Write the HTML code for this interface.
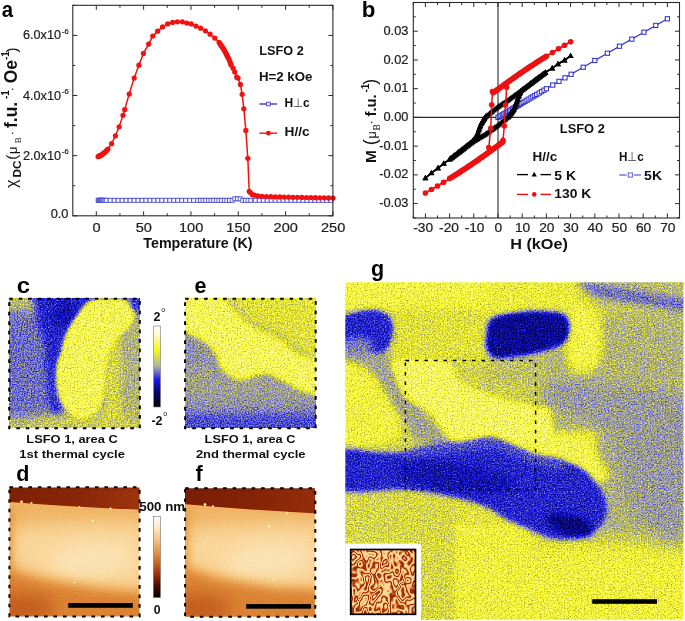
<!DOCTYPE html>
<html><head><meta charset="utf-8"><title>LSFO figure</title>
<style>
html,body{margin:0;padding:0;background:#fff;}
body{width:685px;height:621px;overflow:hidden;}
svg{display:block;}
text{font-family:'Liberation Sans', Arial, sans-serif;}
</style></head>
<body>
<svg width="685" height="621" viewBox="0 0 685 621">
<defs>
<filter id="bl1" x="-60%" y="-60%" width="220%" height="220%"><feGaussianBlur stdDeviation="1"/></filter><filter id="bl2" x="-60%" y="-60%" width="220%" height="220%"><feGaussianBlur stdDeviation="2"/></filter><filter id="bl3" x="-60%" y="-60%" width="220%" height="220%"><feGaussianBlur stdDeviation="3"/></filter><filter id="bl4" x="-60%" y="-60%" width="220%" height="220%"><feGaussianBlur stdDeviation="4"/></filter><filter id="bl5" x="-60%" y="-60%" width="220%" height="220%"><feGaussianBlur stdDeviation="5"/></filter><filter id="bl6" x="-60%" y="-60%" width="220%" height="220%"><feGaussianBlur stdDeviation="6"/></filter><filter id="bl8" x="-60%" y="-60%" width="220%" height="220%"><feGaussianBlur stdDeviation="8"/></filter><filter id="bl10" x="-60%" y="-60%" width="220%" height="220%"><feGaussianBlur stdDeviation="10"/></filter><filter id="bl14" x="-60%" y="-60%" width="220%" height="220%"><feGaussianBlur stdDeviation="14"/></filter>
<linearGradient id="gsd" x1="0" y1="0" x2="1" y2="0"><stop offset="0" stop-color="rgb(73,73,73)"/><stop offset="0.45" stop-color="rgb(79,79,79)"/><stop offset="1" stop-color="rgb(97,97,97)"/></linearGradient>
<linearGradient id="gsf" x1="0" y1="0" x2="1" y2="0"><stop offset="0" stop-color="rgb(70,70,70)"/><stop offset="0.45" stop-color="rgb(76,76,76)"/><stop offset="1" stop-color="rgb(91,91,91)"/></linearGradient>
<filter id="fc" filterUnits="userSpaceOnUse" x="-3" y="286" width="155" height="154" color-interpolation-filters="sRGB"><feGaussianBlur in="SourceGraphic" stdDeviation="0.8" result="p"/><feTurbulence type="fractalNoise" baseFrequency="0.7" numOctaves="3" seed="3" result="t"/><feColorMatrix in="t" type="matrix" values="1 0 0 0 0  1 0 0 0 0  1 0 0 0 0  0 0 0 0 1" result="n"/><feColorMatrix in="t" type="matrix" values="0 1 0 0 0  0 1 0 0 0  0 1 0 0 0  0 0 0 0 1" result="n2"/><feComposite in="p" in2="n" operator="arithmetic" k1="0" k2="1" k3="0.4" k4="-0.2" result="v"/><feComponentTransfer in="v" result="c"><feFuncR type="table" tableValues="0.000 0.000 0.000 0.000 0.000 0.002 0.009 0.017 0.025 0.036 0.056 0.077 0.098 0.165 0.233 0.300 0.381 0.465 0.549 0.601 0.654 0.698 0.737 0.776 0.825 0.877 0.928 0.957 0.969 0.982 0.995 1.000 1.000 1.000 1.000 1.000 1.000 1.000 1.000 1.000 1.000"/><feFuncG type="table" tableValues="0.000 0.000 0.000 0.000 0.000 0.002 0.009 0.017 0.025 0.036 0.056 0.077 0.098 0.165 0.233 0.300 0.381 0.465 0.549 0.601 0.654 0.701 0.744 0.787 0.834 0.882 0.930 0.957 0.969 0.982 0.995 1.000 1.000 1.000 1.000 1.000 1.000 1.000 1.000 1.000 1.000"/><feFuncB type="table" tableValues="0.000 0.049 0.098 0.147 0.196 0.251 0.329 0.408 0.486 0.567 0.659 0.751 0.843 0.843 0.843 0.843 0.804 0.755 0.706 0.632 0.559 0.487 0.417 0.347 0.284 0.223 0.162 0.170 0.224 0.277 0.331 0.395 0.465 0.535 0.605 0.675 0.745 0.809 0.873 0.936 1.000"/><feFuncA type="linear" slope="0" intercept="1"/></feComponentTransfer><feComposite in="c" in2="n2" operator="arithmetic" k1="0.8" k2="0.6" k3="0" k4="0" result="cl"/><feGaussianBlur in="cl" stdDeviation="0.6"/></filter>
<filter id="fe" filterUnits="userSpaceOnUse" x="173" y="286" width="155" height="154" color-interpolation-filters="sRGB"><feGaussianBlur in="SourceGraphic" stdDeviation="0.8" result="p"/><feTurbulence type="fractalNoise" baseFrequency="0.7" numOctaves="3" seed="7" result="t"/><feColorMatrix in="t" type="matrix" values="1 0 0 0 0  1 0 0 0 0  1 0 0 0 0  0 0 0 0 1" result="n"/><feColorMatrix in="t" type="matrix" values="0 1 0 0 0  0 1 0 0 0  0 1 0 0 0  0 0 0 0 1" result="n2"/><feComposite in="p" in2="n" operator="arithmetic" k1="0" k2="1" k3="0.4" k4="-0.2" result="v"/><feComponentTransfer in="v" result="c"><feFuncR type="table" tableValues="0.000 0.000 0.000 0.000 0.000 0.002 0.009 0.017 0.025 0.036 0.056 0.077 0.098 0.165 0.233 0.300 0.381 0.465 0.549 0.601 0.654 0.698 0.737 0.776 0.825 0.877 0.928 0.957 0.969 0.982 0.995 1.000 1.000 1.000 1.000 1.000 1.000 1.000 1.000 1.000 1.000"/><feFuncG type="table" tableValues="0.000 0.000 0.000 0.000 0.000 0.002 0.009 0.017 0.025 0.036 0.056 0.077 0.098 0.165 0.233 0.300 0.381 0.465 0.549 0.601 0.654 0.701 0.744 0.787 0.834 0.882 0.930 0.957 0.969 0.982 0.995 1.000 1.000 1.000 1.000 1.000 1.000 1.000 1.000 1.000 1.000"/><feFuncB type="table" tableValues="0.000 0.049 0.098 0.147 0.196 0.251 0.329 0.408 0.486 0.567 0.659 0.751 0.843 0.843 0.843 0.843 0.804 0.755 0.706 0.632 0.559 0.487 0.417 0.347 0.284 0.223 0.162 0.170 0.224 0.277 0.331 0.395 0.465 0.535 0.605 0.675 0.745 0.809 0.873 0.936 1.000"/><feFuncA type="linear" slope="0" intercept="1"/></feComponentTransfer><feComposite in="c" in2="n2" operator="arithmetic" k1="0.8" k2="0.6" k3="0" k4="0" result="cl"/><feGaussianBlur in="cl" stdDeviation="0.6"/></filter>
<filter id="fg" filterUnits="userSpaceOnUse" x="333.3" y="270.3" width="362.2" height="361.4" color-interpolation-filters="sRGB"><feGaussianBlur in="SourceGraphic" stdDeviation="0.8" result="p"/><feTurbulence type="fractalNoise" baseFrequency="0.7" numOctaves="3" seed="11" result="t"/><feColorMatrix in="t" type="matrix" values="1 0 0 0 0  1 0 0 0 0  1 0 0 0 0  0 0 0 0 1" result="n"/><feColorMatrix in="t" type="matrix" values="0 1 0 0 0  0 1 0 0 0  0 1 0 0 0  0 0 0 0 1" result="n2"/><feComposite in="p" in2="n" operator="arithmetic" k1="0" k2="1" k3="0.4" k4="-0.2" result="v"/><feComponentTransfer in="v" result="c"><feFuncR type="table" tableValues="0.000 0.000 0.000 0.000 0.000 0.002 0.009 0.017 0.025 0.036 0.056 0.077 0.098 0.165 0.233 0.300 0.381 0.465 0.549 0.601 0.654 0.698 0.737 0.776 0.825 0.877 0.928 0.957 0.969 0.982 0.995 1.000 1.000 1.000 1.000 1.000 1.000 1.000 1.000 1.000 1.000"/><feFuncG type="table" tableValues="0.000 0.000 0.000 0.000 0.000 0.002 0.009 0.017 0.025 0.036 0.056 0.077 0.098 0.165 0.233 0.300 0.381 0.465 0.549 0.601 0.654 0.701 0.744 0.787 0.834 0.882 0.930 0.957 0.969 0.982 0.995 1.000 1.000 1.000 1.000 1.000 1.000 1.000 1.000 1.000 1.000"/><feFuncB type="table" tableValues="0.000 0.049 0.098 0.147 0.196 0.251 0.329 0.408 0.486 0.567 0.659 0.751 0.843 0.843 0.843 0.843 0.804 0.755 0.706 0.632 0.559 0.487 0.417 0.347 0.284 0.223 0.162 0.170 0.224 0.277 0.331 0.395 0.465 0.535 0.605 0.675 0.745 0.809 0.873 0.936 1.000"/><feFuncA type="linear" slope="0" intercept="1"/></feComponentTransfer><feComposite in="c" in2="n2" operator="arithmetic" k1="0.8" k2="0.6" k3="0" k4="0" result="cl"/><feGaussianBlur in="cl" stdDeviation="0.6"/></filter>
<filter id="fd" filterUnits="userSpaceOnUse" x="-2.5" y="475.6" width="154" height="153" color-interpolation-filters="sRGB"><feGaussianBlur in="SourceGraphic" stdDeviation="0.6" result="p"/><feTurbulence type="fractalNoise" baseFrequency="0.9" numOctaves="1" seed="5" result="t"/><feColorMatrix in="t" type="matrix" values="1 0 0 0 0  1 0 0 0 0  1 0 0 0 0  0 0 0 0 1" result="n"/><feColorMatrix in="t" type="matrix" values="0 1 0 0 0  0 1 0 0 0  0 1 0 0 0  0 0 0 0 1" result="n2"/><feComposite in="p" in2="n" operator="arithmetic" k1="0" k2="1" k3="0.1" k4="-0.05" result="v"/><feComponentTransfer in="v" result="c"><feFuncR type="table" tableValues="0.000 0.041 0.082 0.123 0.163 0.205 0.250 0.296 0.341 0.386 0.431 0.471 0.510 0.549 0.588 0.627 0.667 0.706 0.745 0.769 0.793 0.817 0.842 0.866 0.882 0.897 0.912 0.926 0.941 0.949 0.958 0.966 0.974 0.981 0.984 0.987 0.990 0.993 0.995 0.998 1.000"/><feFuncG type="table" tableValues="0.000 0.007 0.013 0.020 0.026 0.034 0.047 0.060 0.072 0.085 0.098 0.118 0.137 0.157 0.176 0.216 0.255 0.294 0.333 0.371 0.409 0.446 0.484 0.522 0.559 0.596 0.632 0.669 0.706 0.734 0.763 0.792 0.820 0.848 0.870 0.893 0.915 0.938 0.958 0.979 1.000"/><feFuncB type="table" tableValues="0.000 0.000 0.000 0.000 0.000 0.000 0.003 0.005 0.007 0.010 0.012 0.019 0.025 0.032 0.039 0.054 0.069 0.083 0.098 0.121 0.143 0.166 0.189 0.211 0.245 0.282 0.319 0.355 0.392 0.437 0.482 0.527 0.572 0.618 0.667 0.716 0.765 0.816 0.877 0.939 1.000"/><feFuncA type="linear" slope="0" intercept="1"/></feComponentTransfer></filter>
<filter id="ff" filterUnits="userSpaceOnUse" x="173" y="476.3" width="154" height="152.5" color-interpolation-filters="sRGB"><feGaussianBlur in="SourceGraphic" stdDeviation="0.6" result="p"/><feTurbulence type="fractalNoise" baseFrequency="0.9" numOctaves="1" seed="9" result="t"/><feColorMatrix in="t" type="matrix" values="1 0 0 0 0  1 0 0 0 0  1 0 0 0 0  0 0 0 0 1" result="n"/><feColorMatrix in="t" type="matrix" values="0 1 0 0 0  0 1 0 0 0  0 1 0 0 0  0 0 0 0 1" result="n2"/><feComposite in="p" in2="n" operator="arithmetic" k1="0" k2="1" k3="0.1" k4="-0.05" result="v"/><feComponentTransfer in="v" result="c"><feFuncR type="table" tableValues="0.000 0.041 0.082 0.123 0.163 0.205 0.250 0.296 0.341 0.386 0.431 0.471 0.510 0.549 0.588 0.627 0.667 0.706 0.745 0.769 0.793 0.817 0.842 0.866 0.882 0.897 0.912 0.926 0.941 0.949 0.958 0.966 0.974 0.981 0.984 0.987 0.990 0.993 0.995 0.998 1.000"/><feFuncG type="table" tableValues="0.000 0.007 0.013 0.020 0.026 0.034 0.047 0.060 0.072 0.085 0.098 0.118 0.137 0.157 0.176 0.216 0.255 0.294 0.333 0.371 0.409 0.446 0.484 0.522 0.559 0.596 0.632 0.669 0.706 0.734 0.763 0.792 0.820 0.848 0.870 0.893 0.915 0.938 0.958 0.979 1.000"/><feFuncB type="table" tableValues="0.000 0.000 0.000 0.000 0.000 0.000 0.003 0.005 0.007 0.010 0.012 0.019 0.025 0.032 0.039 0.054 0.069 0.083 0.098 0.121 0.143 0.166 0.189 0.211 0.245 0.282 0.319 0.355 0.392 0.437 0.482 0.527 0.572 0.618 0.667 0.716 0.765 0.816 0.877 0.939 1.000"/><feFuncA type="linear" slope="0" intercept="1"/></feComponentTransfer></filter>
<filter id="maze" filterUnits="userSpaceOnUse" x="351" y="549.8" width="64" height="64.2" color-interpolation-filters="sRGB">
<feTurbulence type="fractalNoise" baseFrequency="0.1 0.075" numOctaves="2" seed="4" result="t"/>
<feColorMatrix in="t" type="matrix" values="1 0 0 0 0  1 0 0 0 0  1 0 0 0 0  0 0 0 0 1" result="n"/>
<feComponentTransfer in="n"><feFuncR type="table" tableValues="0.99 0.99 0.93 0.62 0.62 0.93 0.99 0.99 0.93 0.62 0.62 0.93 0.99 0.99 0.93 0.62 0.62 0.93 0.99 0.99 0.93 0.62 0.62 0.93 0.99 0.99 0.93 0.62 0.62 0.93 0.99 0.99 0.93 0.62 0.62 0.93"/><feFuncG type="table" tableValues="0.87 0.87 0.60 0.17 0.17 0.60 0.87 0.87 0.60 0.17 0.17 0.60 0.87 0.87 0.60 0.17 0.17 0.60 0.87 0.87 0.60 0.17 0.17 0.60 0.87 0.87 0.60 0.17 0.17 0.60 0.87 0.87 0.60 0.17 0.17 0.60"/><feFuncB type="table" tableValues="0.62 0.62 0.30 0.04 0.04 0.30 0.62 0.62 0.30 0.04 0.04 0.30 0.62 0.62 0.30 0.04 0.04 0.30 0.62 0.62 0.30 0.04 0.04 0.30 0.62 0.62 0.30 0.04 0.04 0.30 0.62 0.62 0.30 0.04 0.04 0.30"/><feFuncA type="linear" slope="0" intercept="1"/></feComponentTransfer>
<feGaussianBlur stdDeviation="0.35"/>
</filter>
<linearGradient id="cbm" x1="0" y1="0" x2="0" y2="1">
<stop offset="0" stop-color="#ffffff"/><stop offset="0.12" stop-color="#fdfdc0"/><stop offset="0.3" stop-color="#f6f620"/><stop offset="0.5" stop-color="#b0b0a0"/>
<stop offset="0.66" stop-color="#1a1ae8"/><stop offset="0.82" stop-color="#05056a"/><stop offset="1" stop-color="#000000"/></linearGradient>
<linearGradient id="cba" x1="0" y1="0" x2="0" y2="1">
<stop offset="0" stop-color="#ffffff"/><stop offset="0.15" stop-color="#fbe6c0"/><stop offset="0.35" stop-color="#eeb070"/><stop offset="0.52" stop-color="#d27a30"/>
<stop offset="0.68" stop-color="#a83810"/><stop offset="0.85" stop-color="#4a0c00"/><stop offset="1" stop-color="#000000"/></linearGradient>
</defs>
<rect width="685" height="621" fill="#fff"/>
<clipPath id="clip_fc"><rect x="9" y="298" width="131" height="130"/></clipPath><g clip-path="url(#clip_fc)"><g filter="url(#fc)"><rect x="-8" y="281" width="165" height="164" fill="rgb(120,120,120)"/><g transform="translate(9,298)"><rect x="-20" y="-20" width="60" height="42" fill="rgb(143,143,143)" filter="url(#bl6)"/><rect x="-20" y="112" width="180" height="40" fill="rgb(149,149,149)" filter="url(#bl5)"/><path d="M-10.0,20.0 C-1.7,4.3 31.0,13.3 40.0,20.0 C49.0,26.7 43.3,46.7 44.0,60.0 C44.7,73.3 43.3,91.0 44.0,100.0 C44.7,109.0 57.0,111.7 48.0,114.0 C39.0,116.3 -0.3,129.7 -10.0,114.0 C-19.7,98.3 -18.3,35.7 -10.0,20.0 Z" fill="rgb(106,106,106)" filter="url(#bl6)"/><path d="M28.0,-8.0 C37.3,-12.7 77.3,-12.0 84.0,-8.0 C90.7,-4.0 72.3,8.3 68.0,16.0 C63.7,23.7 60.8,31.0 58.0,38.0 C55.2,45.0 52.8,51.3 51.0,58.0 C49.2,64.7 47.5,71.3 47.0,78.0 C46.5,84.7 46.8,92.0 48.0,98.0 C49.2,104.0 54.8,111.3 54.0,114.0 C53.2,116.7 45.5,117.2 43.0,114.0 C40.5,110.8 40.0,102.3 39.0,95.0 C38.0,87.7 37.7,78.3 37.0,70.0 C36.3,61.7 36.5,53.3 35.0,45.0 C33.5,36.7 29.2,28.8 28.0,20.0 C26.8,11.2 18.7,-3.3 28.0,-8.0 Z" fill="rgb(79,79,79)" filter="url(#bl3)"/><ellipse cx="56" cy="16" rx="15" ry="11" fill="rgb(66,66,66)" transform="rotate(-30 56 16)" filter="url(#bl4)"/><rect x="-20" y="60" width="10" height="50" fill="rgb(128,128,128)" filter="url(#bl4)"/><rect x="121" y="-20" width="30" height="34" fill="rgb(87,87,87)" filter="url(#bl3)"/><rect x="94" y="25" width="22" height="95" fill="rgb(158,158,158)" filter="url(#bl5)"/><rect x="113" y="20" width="40" height="100" fill="rgb(135,135,135)" filter="url(#bl6)"/><path d="M81.7,3.8 C86.2,1.6 91.8,2.2 97.4,2.0 C103.0,1.8 111.4,1.2 115.5,2.6 C119.6,4.0 120.5,7.7 122.2,10.5 C123.9,13.3 126.3,16.1 125.6,19.5 C124.8,22.9 120.9,27.1 117.7,30.8 C114.5,34.5 109.5,37.9 106.5,42.0 C103.5,46.1 101.4,50.7 99.7,55.6 C98.0,60.5 97.0,66.1 96.3,71.4 C95.5,76.7 95.8,81.9 95.2,87.2 C94.6,92.5 94.4,98.5 92.9,103.0 C91.4,107.5 90.0,111.4 86.2,114.2 C82.5,117.0 74.9,120.1 70.4,119.9 C65.9,119.7 62.1,115.9 59.1,113.1 C56.1,110.3 54.1,106.6 52.4,103.0 C50.7,99.4 49.8,95.8 49.0,91.7 C48.2,87.6 47.8,82.7 47.8,78.2 C47.8,73.7 48.2,68.4 49.0,64.6 C49.8,60.8 51.3,59.4 52.4,55.6 C53.5,51.8 54.2,46.5 55.7,42.0 C57.2,37.5 58.9,33.1 61.4,28.6 C63.9,24.1 67.0,19.1 70.4,15.0 C73.8,10.9 77.2,6.0 81.7,3.8 Z" fill="rgb(191,191,191)" filter="url(#bl1)"/></g></g></g>
<clipPath id="clip_fe"><rect x="185" y="298" width="131" height="130"/></clipPath><g clip-path="url(#clip_fe)"><g filter="url(#fe)"><rect x="168" y="281" width="165" height="164" fill="rgb(120,120,120)"/><g transform="translate(185,298)"><rect x="-20" y="70" width="180" height="100" fill="rgb(126,126,126)" filter="url(#bl6)"/><rect x="-20" y="100" width="180" height="50" fill="rgb(119,119,119)" filter="url(#bl6)"/><rect x="-20" y="115" width="180" height="40" fill="rgb(94,94,94)" filter="url(#bl4)"/><path d="M-10.0,-10.0 C7.8,-11.3 115.0,-22.7 140.0,-10.0 C165.0,2.7 144.2,54.7 140.0,66.0 C135.8,77.3 123.0,62.3 115.0,58.0 C107.0,53.7 100.8,45.3 92.0,40.0 C83.2,34.7 71.8,33.0 62.0,26.0 C52.2,19.0 45.0,4.0 33.0,-2.0 C21.0,-8.0 -27.8,-8.7 -10.0,-10.0 Z" fill="rgb(163,163,163)" filter="url(#bl8)"/><path d="M-10.0,-10.0 C-2.8,-14.3 21.0,-8.0 33.0,-2.0 C45.0,4.0 52.2,18.8 62.0,25.8 C71.8,32.9 82.7,35.0 91.5,40.3 C100.3,45.6 106.6,53.4 114.7,57.7 C122.8,62.1 135.8,60.0 140.0,66.4 C144.2,72.8 143.7,91.7 140.0,96.0 C136.3,100.3 123.3,94.0 117.6,92.5 C111.9,91.0 109.9,88.6 106.0,86.7 C102.1,84.8 98.3,82.9 94.4,81.0 C90.5,79.1 86.7,75.8 82.8,75.1 C78.9,74.4 75.1,75.6 71.2,76.6 C67.3,77.6 63.5,80.5 59.6,81.0 C55.7,81.5 51.9,81.5 48.0,79.5 C44.1,77.5 39.3,73.4 36.4,69.3 C33.5,65.2 33.5,59.1 30.6,54.8 C27.7,50.4 25.8,48.3 19.0,43.2 C12.2,38.1 -5.2,32.9 -10.0,24.0 C-14.8,15.1 -17.2,-5.7 -10.0,-10.0 Z" fill="rgb(194,194,194)" filter="url(#bl2)"/></g></g></g>
<clipPath id="clip_fg"><rect x="345.3" y="282.3" width="338.2" height="337.4"/></clipPath><g clip-path="url(#clip_fg)"><g filter="url(#fg)"><rect x="328.3" y="265.3" width="372.2" height="371.4" fill="rgb(153,153,153)"/><g transform="translate(345.3,282.3)"><rect x="-20" y="-20" width="200" height="50" fill="rgb(184,184,184)" filter="url(#bl6)"/><rect x="-20" y="209" width="400" height="150" fill="rgb(163,163,163)" filter="url(#bl8)"/><rect x="-20" y="209" width="130" height="150" fill="rgb(156,156,156)" filter="url(#bl3)"/><rect x="110" y="242.5" width="260" height="110" fill="rgb(178,178,178)" filter="url(#bl2)"/><rect x="190" y="30" width="170" height="230" fill="rgb(135,135,135)" filter="url(#bl10)"/><rect x="138" y="74" width="62" height="28" fill="rgb(143,143,143)" filter="url(#bl5)"/><rect x="140" y="-20" width="95" height="48" fill="rgb(173,173,173)" filter="url(#bl5)"/><path d="M215.0,99.0 C237.5,97.5 327.5,106.5 350.0,118.0 C372.5,129.5 372.5,166.5 350.0,168.0 C327.5,169.5 237.5,138.5 215.0,127.0 C192.5,115.5 192.5,100.5 215.0,99.0 Z" fill="rgb(124,124,124)" filter="url(#bl6)"/><rect x="235" y="-20" width="120" height="32" fill="rgb(140,140,140)" filter="url(#bl5)"/><path d="M229.0,-2.0 L350.0,17.0 L350.0,32.0 L252.0,16.0Z" fill="rgb(107,107,107)" filter="url(#bl3)"/><path d="M223.0,27.0 C227.2,17.3 244.5,21.5 250.0,27.0 C255.5,32.5 256.0,50.3 256.0,60.0 C256.0,69.7 255.2,80.8 250.0,85.0 C244.8,89.2 229.5,94.7 225.0,85.0 C220.5,75.3 218.8,36.7 223.0,27.0 Z" fill="rgb(186,186,186)" filter="url(#bl5)"/><rect x="200" y="150" width="50" height="30" fill="rgb(184,184,184)" filter="url(#bl5)"/><rect x="48" y="28" width="100" height="52" fill="rgb(163,163,163)" filter="url(#bl8)"/><path d="M-10.0,55.0 C-5.0,52.0 11.7,59.5 20.0,62.0 C28.3,64.5 34.2,65.3 40.0,70.0 C45.8,74.7 50.7,83.0 55.0,90.0 C59.3,97.0 61.8,105.0 66.0,112.0 C70.2,119.0 75.2,126.0 80.0,132.0 C84.8,138.0 90.0,143.7 95.0,148.0 C100.0,152.3 110.0,155.0 110.0,158.0 C110.0,161.0 100.8,165.7 95.0,166.0 C89.2,166.3 81.2,164.3 75.0,160.0 C68.8,155.7 63.0,147.0 58.0,140.0 C53.0,133.0 49.7,125.5 45.0,118.0 C40.3,110.5 35.0,101.0 30.0,95.0 C25.0,89.0 21.7,84.5 15.0,82.0 C8.3,79.5 -5.8,84.5 -10.0,80.0 C-14.2,75.5 -15.0,58.0 -10.0,55.0 Z" fill="rgb(128,128,128)" filter="url(#bl3)"/><path d="M-10.0,84.0 C-5.8,72.0 8.3,83.5 15.0,86.0 C21.7,88.5 25.3,93.3 30.0,99.0 C34.7,104.7 39.0,113.2 43.0,120.0 C47.0,126.8 53.2,133.7 54.0,140.0 C54.8,146.3 58.7,155.0 48.0,158.0 C37.3,161.0 -0.3,170.3 -10.0,158.0 C-19.7,145.7 -14.2,96.0 -10.0,84.0 Z" fill="rgb(181,181,181)" filter="url(#bl3)"/><path d="M-6.0,36.2 C-3.0,30.6 6.2,30.4 12.1,28.9 C18.0,27.3 24.4,26.4 29.5,26.9 C34.6,27.4 39.4,29.1 42.5,31.8 C45.6,34.5 47.6,39.3 48.3,43.4 C49.0,47.5 48.1,52.4 46.9,56.5 C45.7,60.6 44.0,65.7 41.1,68.1 C38.2,70.5 34.3,71.5 29.5,71.0 C24.7,70.5 18.0,66.7 12.1,65.2 C6.2,63.8 -3.0,67.1 -6.0,62.3 C-9.0,57.5 -9.0,41.8 -6.0,36.2 Z" fill="rgb(79,79,79)" filter="url(#bl2)"/><ellipse cx="12" cy="64" rx="16" ry="9" fill="rgb(112,112,112)" transform="rotate(0 12 64)" filter="url(#bl3)"/><path d="M140.7,55.7 C141.2,50.7 141.5,41.7 144.7,37.7 C147.9,33.7 153.0,33.2 159.7,31.7 C166.4,30.2 176.4,29.0 184.7,28.7 C193.0,28.4 203.7,28.9 209.7,29.7 C215.7,30.5 218.2,31.5 220.7,33.7 C223.2,35.9 224.4,39.0 224.7,42.7 C225.0,46.4 224.4,52.4 222.7,55.7 C221.0,59.0 219.4,60.4 214.7,62.7 C210.0,65.0 202.2,67.7 194.7,69.7 C187.2,71.7 177.2,73.7 169.7,74.7 C162.2,75.7 154.4,76.9 149.7,75.7 C145.0,74.5 143.2,71.0 141.7,67.7 C140.2,64.4 140.2,60.7 140.7,55.7 Z" fill="rgb(57,57,57)" filter="url(#bl2)"/><path d="M50.0,78.0 C58.0,75.0 89.2,76.3 100.0,80.0 C110.8,83.7 106.7,94.2 115.0,100.0 C123.3,105.8 137.5,110.8 150.0,115.0 C162.5,119.2 180.8,122.5 190.0,125.0 C199.2,127.5 202.5,121.5 205.0,130.0 C207.5,138.5 207.4,168.7 205.0,176.0 C202.6,183.3 195.4,175.2 190.5,173.7 C185.6,172.1 180.3,169.1 175.3,166.7 C170.3,164.3 165.5,161.5 160.7,159.5 C155.9,157.5 151.1,155.1 146.3,154.7 C141.5,154.3 136.5,156.3 131.7,157.1 C126.9,157.9 121.7,159.6 117.3,159.5 C112.9,159.4 108.9,159.2 105.3,156.7 C101.7,154.2 98.5,148.7 95.7,144.7 C92.9,140.7 92.0,136.3 88.3,132.7 C84.6,129.1 78.5,126.5 73.7,123.3 C68.9,120.1 63.3,117.9 59.7,113.7 C56.1,109.5 53.6,104.0 52.0,98.0 C50.4,92.0 42.0,81.0 50.0,78.0 Z" fill="rgb(194,194,194)" filter="url(#bl2)"/><path d="M190.0,158.0 C197.5,156.0 223.0,157.7 235.0,163.0 C247.0,168.3 259.5,183.8 262.0,190.0 C264.5,196.2 257.8,201.7 250.0,200.0 C242.2,198.3 225.0,184.2 215.0,180.0 C205.0,175.8 194.2,178.7 190.0,175.0 C185.8,171.3 182.5,160.0 190.0,158.0 Z" fill="rgb(189,189,189)" filter="url(#bl3)"/><path d="M-6.0,168.7 C0.8,162.4 23.6,169.5 34.7,169.7 C45.8,169.9 52.4,170.7 60.7,169.7 C69.0,168.7 75.7,165.2 84.7,163.7 C93.7,162.2 104.7,162.0 114.7,160.7 C124.7,159.4 137.0,155.7 144.7,155.7 C152.4,155.7 155.5,158.9 160.7,160.7 C165.9,162.5 170.7,164.7 175.7,166.7 C180.7,168.7 183.7,170.9 190.7,172.7 C197.7,174.5 209.7,175.4 217.7,177.7 C225.7,180.0 233.4,183.2 238.7,186.7 C244.0,190.2 246.4,194.4 249.7,198.7 C253.0,203.0 256.7,208.4 258.7,212.7 C260.7,217.0 261.7,220.2 261.7,224.7 C261.7,229.2 261.2,235.5 258.7,239.7 C256.2,243.9 251.0,247.0 246.7,249.7 C242.4,252.4 237.5,254.4 232.7,255.7 C227.9,257.0 222.5,257.7 217.7,257.7 C212.9,257.7 208.5,257.0 203.7,255.7 C198.9,254.4 193.5,251.7 188.7,249.7 C183.9,247.7 179.5,245.9 174.7,243.7 C169.9,241.5 165.5,239.9 159.7,236.7 C153.9,233.5 147.9,228.2 139.7,224.7 C131.5,221.2 120.4,218.2 110.7,215.7 C101.0,213.2 91.0,211.0 81.7,209.7 C72.4,208.4 69.3,208.1 54.7,207.7 C40.1,207.3 4.1,213.7 -6.0,207.2 C-16.1,200.7 -12.8,174.9 -6.0,168.7 Z" fill="rgb(79,79,79)" filter="url(#bl2)"/><path d="M60.0,169.0 C64.1,166.6 75.6,165.1 84.7,163.7 C93.8,162.3 104.7,162.0 114.7,160.7 C124.7,159.4 137.0,155.7 144.7,155.7 C152.4,155.7 155.5,158.9 160.7,160.7 C165.9,162.5 170.7,164.7 175.7,166.7 C180.7,168.7 183.8,170.8 190.7,172.7 C197.6,174.6 212.6,175.6 217.0,178.0 C221.4,180.4 221.5,186.3 217.0,187.0 C212.5,187.7 197.0,183.8 190.0,182.0 C183.0,180.2 180.0,178.0 175.0,176.0 C170.0,174.0 165.0,171.7 160.0,170.0 C155.0,168.3 152.5,166.0 145.0,166.0 C137.5,166.0 125.0,168.8 115.0,170.0 C105.0,171.2 94.2,171.7 85.0,173.0 C75.8,174.3 64.2,178.7 60.0,178.0 C55.8,177.3 55.9,171.4 60.0,169.0 Z" fill="rgb(98,98,98)" filter="url(#bl3)"/><ellipse cx="225" cy="243" rx="24" ry="10" fill="rgb(51,51,51)" transform="rotate(15 225 243)" filter="url(#bl3)"/><ellipse cx="110" cy="195" rx="60" ry="14" fill="rgb(66,66,66)" transform="rotate(8 110 195)" filter="url(#bl4)"/><path d="M272.0,150.0 C282.5,138.3 332.8,127.5 345.0,145.0 C357.2,162.5 351.7,237.5 345.0,255.0 C338.3,272.5 315.5,256.7 305.0,250.0 C294.5,243.3 287.5,231.7 282.0,215.0 C276.5,198.3 261.5,161.7 272.0,150.0 Z" fill="rgb(122,122,122)" filter="url(#bl10)"/></g></g></g>
<clipPath id="clip_fd"><rect x="9.5" y="487.6" width="130" height="129"/></clipPath><g clip-path="url(#clip_fd)"><g filter="url(#fd)"><rect x="-7.5" y="470.6" width="164" height="163" fill="rgb(178,178,178)"/><g transform="translate(9.5,487.6)"><rect x="-20" y="-20" width="170" height="200" fill="rgb(184,184,184)"/><rect x="-20" y="13.4" width="170" height="26" fill="rgb(176,176,176)" filter="url(#bl8)"/><path d="M5.0,42.0 C25.8,34.7 107.5,33.0 130.0,36.0 C152.5,39.0 138.3,49.3 140.0,60.0 C141.7,70.7 153.3,94.7 140.0,100.0 C126.7,105.3 82.5,95.3 60.0,92.0 C37.5,88.7 14.2,88.3 5.0,80.0 C-4.2,71.7 -15.8,49.3 5.0,42.0 Z" fill="rgb(209,209,209)" filter="url(#bl10)"/><ellipse cx="82" cy="72" rx="42" ry="16" fill="rgb(223,223,223)" transform="rotate(-5 82 72)" filter="url(#bl8)"/><rect x="-30" y="20" width="33" height="120" fill="rgb(158,158,158)" filter="url(#bl4)"/><path d="M-10.0,86.0 C-1.7,76.7 23.3,91.3 40.0,94.0 C56.7,96.7 73.3,99.3 90.0,102.0 C106.7,104.7 131.7,102.0 140.0,110.0 C148.3,118.0 165.0,143.3 140.0,150.0 C115.0,156.7 15.0,160.7 -10.0,150.0 C-35.0,139.3 -18.3,95.3 -10.0,86.0 Z" fill="rgb(145,145,145)" filter="url(#bl6)"/><ellipse cx="8" cy="120" rx="38" ry="14" fill="rgb(120,120,120)" transform="rotate(0 8 120)" filter="url(#bl8)"/><path d="M-10,-10 L140,-10 L140,22.4 Q60,19.4 -10,13.4 Z" fill="url(#gsd)"/><rect x="-10" y="-10" width="160" height="8" fill="rgb(68,68,68)" filter="url(#bl3)"/><circle cx="12" cy="14.2" r="1.3" fill="rgb(237,237,237)"/><circle cx="22" cy="15.4" r="1.0" fill="rgb(237,237,237)"/><circle cx="70" cy="19.5" r="0.9" fill="rgb(237,237,237)"/><circle cx="101" cy="20.8" r="1.0" fill="rgb(237,237,237)"/><circle cx="83" cy="33" r="1.1" fill="rgb(237,237,237)"/><circle cx="45" cy="65" r="0.9" fill="rgb(237,237,237)"/><circle cx="65" cy="95" r="0.8" fill="rgb(237,237,237)"/></g></g></g>
<clipPath id="clip_ff"><rect x="185" y="488.3" width="130" height="128.5"/></clipPath><g clip-path="url(#clip_ff)"><g filter="url(#ff)"><rect x="168" y="471.3" width="164" height="162.5" fill="rgb(178,178,178)"/><g transform="translate(185,488.3)"><rect x="-20" y="-20" width="170" height="200" fill="rgb(184,184,184)"/><rect x="-20" y="15" width="170" height="26" fill="rgb(176,176,176)" filter="url(#bl8)"/><path d="M5.0,42.0 C25.8,34.7 107.5,33.0 130.0,36.0 C152.5,39.0 138.3,49.3 140.0,60.0 C141.7,70.7 153.3,94.7 140.0,100.0 C126.7,105.3 82.5,95.3 60.0,92.0 C37.5,88.7 14.2,88.3 5.0,80.0 C-4.2,71.7 -15.8,49.3 5.0,42.0 Z" fill="rgb(209,209,209)" filter="url(#bl10)"/><ellipse cx="82" cy="72" rx="42" ry="16" fill="rgb(223,223,223)" transform="rotate(-5 82 72)" filter="url(#bl8)"/><rect x="-30" y="20" width="33" height="120" fill="rgb(158,158,158)" filter="url(#bl4)"/><path d="M-10.0,84.0 C-1.7,74.3 23.3,89.3 40.0,92.0 C56.7,94.7 73.3,97.7 90.0,100.0 C106.7,102.3 131.7,97.7 140.0,106.0 C148.3,114.3 165.0,142.7 140.0,150.0 C115.0,157.3 15.0,161.0 -10.0,150.0 C-35.0,139.0 -18.3,93.7 -10.0,84.0 Z" fill="rgb(145,145,145)" filter="url(#bl6)"/><ellipse cx="8" cy="120" rx="38" ry="14" fill="rgb(120,120,120)" transform="rotate(0 8 120)" filter="url(#bl8)"/><path d="M-10,-10 L140,-10 L140,25.5 Q60,21.75 -10,15 Z" fill="url(#gsf)"/><rect x="-10" y="-10" width="160" height="8" fill="rgb(65,65,65)" filter="url(#bl3)"/><circle cx="20" cy="16.3" r="1.3" fill="rgb(237,237,237)"/><circle cx="28" cy="18" r="1.0" fill="rgb(237,237,237)"/><circle cx="102" cy="25" r="1.0" fill="rgb(237,237,237)"/><circle cx="84" cy="38" r="1.2" fill="rgb(237,237,237)"/><circle cx="50" cy="70" r="0.9" fill="rgb(237,237,237)"/><circle cx="88" cy="92" r="0.8" fill="rgb(237,237,237)"/></g></g></g>
<polyline points="98.19,200.31 98.86,200.31 99.52,200.31 100.18,200.31 100.84,200.31 101.51,200.31 102.26,200.31 103.11,200.31 104.06,200.31 105.10,200.31 106.24,200.31 110.21,200.31 114.19,200.31 118.16,200.31 122.14,200.31 126.11,200.31 130.09,200.31 134.06,200.31 138.04,200.31 142.01,200.31 145.99,200.31 149.96,200.31 153.94,200.31 157.91,200.31 161.89,200.31 165.86,200.31 169.84,200.31 173.81,200.31 177.79,200.31 181.76,200.31 185.73,200.31 189.71,200.31 193.68,200.31 197.66,200.31 200.40,200.31 203.05,200.31 205.70,200.31 208.35,200.31 211.00,200.31 213.65,200.31 216.30,200.31 218.95,200.31 221.60,200.31 224.25,200.31 226.90,200.31 229.55,200.31 232.20,200.31 234.85,198.81 237.50,198.81 240.15,198.81 242.80,200.31 245.45,200.31 248.10,200.31 250.75,200.31 255.30,200.31 259.27,200.31 263.24,200.31 267.22,200.31 271.19,200.31 275.17,200.31 279.14,200.31 283.12,200.31 287.09,200.31 291.07,200.31 295.04,200.31 299.02,200.31 302.99,200.31 306.97,200.31 310.94,200.31 314.92,200.31 318.89,200.31 322.87,200.31 326.84,200.31 330.82,200.31" fill="none" stroke="#3a3acb" stroke-width="1"/>
<rect x="96.19" y="198.31" width="4" height="4" fill="#fff" stroke="#4b4bd6" stroke-width="0.9"/>
<rect x="96.86" y="198.31" width="4" height="4" fill="#fff" stroke="#4b4bd6" stroke-width="0.9"/>
<rect x="97.52" y="198.31" width="4" height="4" fill="#fff" stroke="#4b4bd6" stroke-width="0.9"/>
<rect x="98.18" y="198.31" width="4" height="4" fill="#fff" stroke="#4b4bd6" stroke-width="0.9"/>
<rect x="98.84" y="198.31" width="4" height="4" fill="#fff" stroke="#4b4bd6" stroke-width="0.9"/>
<rect x="99.51" y="198.31" width="4" height="4" fill="#fff" stroke="#4b4bd6" stroke-width="0.9"/>
<rect x="100.26" y="198.31" width="4" height="4" fill="#fff" stroke="#4b4bd6" stroke-width="0.9"/>
<rect x="101.11" y="198.31" width="4" height="4" fill="#fff" stroke="#4b4bd6" stroke-width="0.9"/>
<rect x="102.06" y="198.31" width="4" height="4" fill="#fff" stroke="#4b4bd6" stroke-width="0.9"/>
<rect x="103.10" y="198.31" width="4" height="4" fill="#fff" stroke="#4b4bd6" stroke-width="0.9"/>
<rect x="104.24" y="198.31" width="4" height="4" fill="#fff" stroke="#4b4bd6" stroke-width="0.9"/>
<rect x="108.21" y="198.31" width="4" height="4" fill="#fff" stroke="#4b4bd6" stroke-width="0.9"/>
<rect x="112.19" y="198.31" width="4" height="4" fill="#fff" stroke="#4b4bd6" stroke-width="0.9"/>
<rect x="116.16" y="198.31" width="4" height="4" fill="#fff" stroke="#4b4bd6" stroke-width="0.9"/>
<rect x="120.14" y="198.31" width="4" height="4" fill="#fff" stroke="#4b4bd6" stroke-width="0.9"/>
<rect x="124.11" y="198.31" width="4" height="4" fill="#fff" stroke="#4b4bd6" stroke-width="0.9"/>
<rect x="128.09" y="198.31" width="4" height="4" fill="#fff" stroke="#4b4bd6" stroke-width="0.9"/>
<rect x="132.06" y="198.31" width="4" height="4" fill="#fff" stroke="#4b4bd6" stroke-width="0.9"/>
<rect x="136.04" y="198.31" width="4" height="4" fill="#fff" stroke="#4b4bd6" stroke-width="0.9"/>
<rect x="140.01" y="198.31" width="4" height="4" fill="#fff" stroke="#4b4bd6" stroke-width="0.9"/>
<rect x="143.99" y="198.31" width="4" height="4" fill="#fff" stroke="#4b4bd6" stroke-width="0.9"/>
<rect x="147.96" y="198.31" width="4" height="4" fill="#fff" stroke="#4b4bd6" stroke-width="0.9"/>
<rect x="151.94" y="198.31" width="4" height="4" fill="#fff" stroke="#4b4bd6" stroke-width="0.9"/>
<rect x="155.91" y="198.31" width="4" height="4" fill="#fff" stroke="#4b4bd6" stroke-width="0.9"/>
<rect x="159.89" y="198.31" width="4" height="4" fill="#fff" stroke="#4b4bd6" stroke-width="0.9"/>
<rect x="163.86" y="198.31" width="4" height="4" fill="#fff" stroke="#4b4bd6" stroke-width="0.9"/>
<rect x="167.84" y="198.31" width="4" height="4" fill="#fff" stroke="#4b4bd6" stroke-width="0.9"/>
<rect x="171.81" y="198.31" width="4" height="4" fill="#fff" stroke="#4b4bd6" stroke-width="0.9"/>
<rect x="175.79" y="198.31" width="4" height="4" fill="#fff" stroke="#4b4bd6" stroke-width="0.9"/>
<rect x="179.76" y="198.31" width="4" height="4" fill="#fff" stroke="#4b4bd6" stroke-width="0.9"/>
<rect x="183.73" y="198.31" width="4" height="4" fill="#fff" stroke="#4b4bd6" stroke-width="0.9"/>
<rect x="187.71" y="198.31" width="4" height="4" fill="#fff" stroke="#4b4bd6" stroke-width="0.9"/>
<rect x="191.68" y="198.31" width="4" height="4" fill="#fff" stroke="#4b4bd6" stroke-width="0.9"/>
<rect x="195.66" y="198.31" width="4" height="4" fill="#fff" stroke="#4b4bd6" stroke-width="0.9"/>
<rect x="198.40" y="198.31" width="4" height="4" fill="#fff" stroke="#4b4bd6" stroke-width="0.9"/>
<rect x="201.05" y="198.31" width="4" height="4" fill="#fff" stroke="#4b4bd6" stroke-width="0.9"/>
<rect x="203.70" y="198.31" width="4" height="4" fill="#fff" stroke="#4b4bd6" stroke-width="0.9"/>
<rect x="206.35" y="198.31" width="4" height="4" fill="#fff" stroke="#4b4bd6" stroke-width="0.9"/>
<rect x="209.00" y="198.31" width="4" height="4" fill="#fff" stroke="#4b4bd6" stroke-width="0.9"/>
<rect x="211.65" y="198.31" width="4" height="4" fill="#fff" stroke="#4b4bd6" stroke-width="0.9"/>
<rect x="214.30" y="198.31" width="4" height="4" fill="#fff" stroke="#4b4bd6" stroke-width="0.9"/>
<rect x="216.95" y="198.31" width="4" height="4" fill="#fff" stroke="#4b4bd6" stroke-width="0.9"/>
<rect x="219.60" y="198.31" width="4" height="4" fill="#fff" stroke="#4b4bd6" stroke-width="0.9"/>
<rect x="222.25" y="198.31" width="4" height="4" fill="#fff" stroke="#4b4bd6" stroke-width="0.9"/>
<rect x="224.90" y="198.31" width="4" height="4" fill="#fff" stroke="#4b4bd6" stroke-width="0.9"/>
<rect x="227.55" y="198.31" width="4" height="4" fill="#fff" stroke="#4b4bd6" stroke-width="0.9"/>
<rect x="230.20" y="198.31" width="4" height="4" fill="#fff" stroke="#4b4bd6" stroke-width="0.9"/>
<rect x="232.85" y="196.81" width="4" height="4" fill="#fff" stroke="#4b4bd6" stroke-width="0.9"/>
<rect x="235.50" y="196.81" width="4" height="4" fill="#fff" stroke="#4b4bd6" stroke-width="0.9"/>
<rect x="238.15" y="196.81" width="4" height="4" fill="#fff" stroke="#4b4bd6" stroke-width="0.9"/>
<rect x="240.80" y="198.31" width="4" height="4" fill="#fff" stroke="#4b4bd6" stroke-width="0.9"/>
<rect x="243.45" y="198.31" width="4" height="4" fill="#fff" stroke="#4b4bd6" stroke-width="0.9"/>
<rect x="246.10" y="198.31" width="4" height="4" fill="#fff" stroke="#4b4bd6" stroke-width="0.9"/>
<rect x="248.75" y="198.31" width="4" height="4" fill="#fff" stroke="#4b4bd6" stroke-width="0.9"/>
<rect x="253.30" y="198.31" width="4" height="4" fill="#fff" stroke="#4b4bd6" stroke-width="0.9"/>
<rect x="257.27" y="198.31" width="4" height="4" fill="#fff" stroke="#4b4bd6" stroke-width="0.9"/>
<rect x="261.24" y="198.31" width="4" height="4" fill="#fff" stroke="#4b4bd6" stroke-width="0.9"/>
<rect x="265.22" y="198.31" width="4" height="4" fill="#fff" stroke="#4b4bd6" stroke-width="0.9"/>
<rect x="269.19" y="198.31" width="4" height="4" fill="#fff" stroke="#4b4bd6" stroke-width="0.9"/>
<rect x="273.17" y="198.31" width="4" height="4" fill="#fff" stroke="#4b4bd6" stroke-width="0.9"/>
<rect x="277.14" y="198.31" width="4" height="4" fill="#fff" stroke="#4b4bd6" stroke-width="0.9"/>
<rect x="281.12" y="198.31" width="4" height="4" fill="#fff" stroke="#4b4bd6" stroke-width="0.9"/>
<rect x="285.09" y="198.31" width="4" height="4" fill="#fff" stroke="#4b4bd6" stroke-width="0.9"/>
<rect x="289.07" y="198.31" width="4" height="4" fill="#fff" stroke="#4b4bd6" stroke-width="0.9"/>
<rect x="293.04" y="198.31" width="4" height="4" fill="#fff" stroke="#4b4bd6" stroke-width="0.9"/>
<rect x="297.02" y="198.31" width="4" height="4" fill="#fff" stroke="#4b4bd6" stroke-width="0.9"/>
<rect x="300.99" y="198.31" width="4" height="4" fill="#fff" stroke="#4b4bd6" stroke-width="0.9"/>
<rect x="304.97" y="198.31" width="4" height="4" fill="#fff" stroke="#4b4bd6" stroke-width="0.9"/>
<rect x="308.94" y="198.31" width="4" height="4" fill="#fff" stroke="#4b4bd6" stroke-width="0.9"/>
<rect x="312.92" y="198.31" width="4" height="4" fill="#fff" stroke="#4b4bd6" stroke-width="0.9"/>
<rect x="316.89" y="198.31" width="4" height="4" fill="#fff" stroke="#4b4bd6" stroke-width="0.9"/>
<rect x="320.87" y="198.31" width="4" height="4" fill="#fff" stroke="#4b4bd6" stroke-width="0.9"/>
<rect x="324.84" y="198.31" width="4" height="4" fill="#fff" stroke="#4b4bd6" stroke-width="0.9"/>
<rect x="328.82" y="198.31" width="4" height="4" fill="#fff" stroke="#4b4bd6" stroke-width="0.9"/>
<polyline points="98.10,156.56 100.09,155.66 102.92,153.86 105.76,151.45 107.94,149.04 111.63,143.63 115.42,135.81 119.11,126.79 122.99,115.37 124.69,109.65 129.23,94.02 134.16,78.08 138.89,65.15 143.43,53.42 148.64,44.10 152.80,35.98 157.72,31.17 162.55,26.96 167.66,23.95 172.58,22.45 177.31,21.85 182.33,21.85 186.78,23.05 191.22,23.95 195.96,26.06 200.69,28.16 205.42,30.87 210.06,34.18 214.79,38.09 219.05,42.30 224.06,49.81 228.80,58.83 231.35,65.45 233.05,68.16 234.76,72.07 236.75,77.18 238.07,78.08 240.44,84.39 242.14,94.32 243.84,108.75 245.83,130.40 247.82,158.37 249.24,191.44 252.46,194.75 257.76,195.95 266.65,196.56 285.58,197.16 304.51,197.46 332.90,198.06" fill="none" stroke="#f21010" stroke-width="1.5"/>
<circle cx="98.10" cy="156.56" r="2.6" fill="#f21010"/>
<circle cx="98.67" cy="156.30" r="2.6" fill="#f21010"/>
<circle cx="99.14" cy="156.09" r="2.6" fill="#f21010"/>
<circle cx="99.61" cy="155.87" r="2.6" fill="#f21010"/>
<circle cx="100.09" cy="155.66" r="2.6" fill="#f21010"/>
<circle cx="100.75" cy="155.24" r="2.6" fill="#f21010"/>
<circle cx="101.51" cy="154.76" r="2.6" fill="#f21010"/>
<circle cx="102.26" cy="154.28" r="2.6" fill="#f21010"/>
<circle cx="103.11" cy="153.70" r="2.6" fill="#f21010"/>
<circle cx="104.06" cy="152.89" r="2.6" fill="#f21010"/>
<circle cx="105.01" cy="152.09" r="2.6" fill="#f21010"/>
<circle cx="106.05" cy="151.14" r="2.6" fill="#f21010"/>
<circle cx="106.99" cy="150.09" r="2.6" fill="#f21010"/>
<circle cx="107.94" cy="149.04" r="2.6" fill="#f21010"/>
<circle cx="111.63" cy="143.63" r="2.6" fill="#f21010"/>
<circle cx="115.42" cy="135.81" r="2.6" fill="#f21010"/>
<circle cx="119.11" cy="126.79" r="2.6" fill="#f21010"/>
<circle cx="122.99" cy="115.37" r="2.6" fill="#f21010"/>
<circle cx="124.69" cy="109.65" r="2.6" fill="#f21010"/>
<circle cx="129.23" cy="94.02" r="2.6" fill="#f21010"/>
<circle cx="134.16" cy="78.08" r="2.6" fill="#f21010"/>
<circle cx="138.89" cy="65.15" r="2.6" fill="#f21010"/>
<circle cx="143.43" cy="53.42" r="2.6" fill="#f21010"/>
<circle cx="148.64" cy="44.10" r="2.6" fill="#f21010"/>
<circle cx="152.80" cy="35.98" r="2.6" fill="#f21010"/>
<circle cx="157.72" cy="31.17" r="2.6" fill="#f21010"/>
<circle cx="162.55" cy="26.96" r="2.6" fill="#f21010"/>
<circle cx="167.66" cy="23.95" r="2.6" fill="#f21010"/>
<circle cx="172.58" cy="22.45" r="2.6" fill="#f21010"/>
<circle cx="177.31" cy="21.85" r="2.6" fill="#f21010"/>
<circle cx="182.33" cy="21.85" r="2.6" fill="#f21010"/>
<circle cx="186.78" cy="23.05" r="2.6" fill="#f21010"/>
<circle cx="191.22" cy="23.95" r="2.6" fill="#f21010"/>
<circle cx="195.96" cy="26.06" r="2.6" fill="#f21010"/>
<circle cx="200.69" cy="28.16" r="2.6" fill="#f21010"/>
<circle cx="205.42" cy="30.87" r="2.6" fill="#f21010"/>
<circle cx="210.06" cy="34.18" r="2.6" fill="#f21010"/>
<circle cx="214.79" cy="38.09" r="2.6" fill="#f21010"/>
<circle cx="219.05" cy="42.30" r="2.6" fill="#f21010"/>
<circle cx="219.81" cy="43.43" r="2.6" fill="#f21010"/>
<circle cx="220.56" cy="44.57" r="2.6" fill="#f21010"/>
<circle cx="221.32" cy="45.70" r="2.6" fill="#f21010"/>
<circle cx="222.08" cy="46.83" r="2.6" fill="#f21010"/>
<circle cx="222.83" cy="47.97" r="2.6" fill="#f21010"/>
<circle cx="223.59" cy="49.10" r="2.6" fill="#f21010"/>
<circle cx="224.35" cy="50.35" r="2.6" fill="#f21010"/>
<circle cx="225.11" cy="51.80" r="2.6" fill="#f21010"/>
<circle cx="225.86" cy="53.24" r="2.6" fill="#f21010"/>
<circle cx="226.62" cy="54.68" r="2.6" fill="#f21010"/>
<circle cx="227.38" cy="56.13" r="2.6" fill="#f21010"/>
<circle cx="228.13" cy="57.57" r="2.6" fill="#f21010"/>
<circle cx="228.89" cy="59.08" r="2.6" fill="#f21010"/>
<circle cx="229.65" cy="61.04" r="2.6" fill="#f21010"/>
<circle cx="230.40" cy="63.00" r="2.6" fill="#f21010"/>
<circle cx="231.16" cy="64.96" r="2.6" fill="#f21010"/>
<circle cx="233.05" cy="68.16" r="2.6" fill="#f21010"/>
<circle cx="234.76" cy="72.07" r="2.6" fill="#f21010"/>
<circle cx="236.75" cy="77.18" r="2.6" fill="#f21010"/>
<circle cx="238.07" cy="78.08" r="2.6" fill="#f21010"/>
<circle cx="240.44" cy="84.39" r="2.6" fill="#f21010"/>
<circle cx="242.14" cy="94.32" r="2.6" fill="#f21010"/>
<circle cx="243.84" cy="108.75" r="2.6" fill="#f21010"/>
<circle cx="245.83" cy="130.40" r="2.6" fill="#f21010"/>
<circle cx="247.82" cy="158.37" r="2.6" fill="#f21010"/>
<circle cx="249.24" cy="191.44" r="2.6" fill="#f21010"/>
<circle cx="250.56" cy="192.81" r="2.6" fill="#f21010"/>
<circle cx="252.46" cy="194.75" r="2.6" fill="#f21010"/>
<circle cx="254.35" cy="195.18" r="2.6" fill="#f21010"/>
<circle cx="257.76" cy="195.95" r="2.6" fill="#f21010"/>
<circle cx="261.92" cy="196.24" r="2.6" fill="#f21010"/>
<circle cx="266.37" cy="196.54" r="2.6" fill="#f21010"/>
<circle cx="270.82" cy="196.69" r="2.6" fill="#f21010"/>
<circle cx="275.26" cy="196.83" r="2.6" fill="#f21010"/>
<circle cx="279.71" cy="196.97" r="2.6" fill="#f21010"/>
<circle cx="284.16" cy="197.11" r="2.6" fill="#f21010"/>
<circle cx="288.61" cy="197.20" r="2.6" fill="#f21010"/>
<circle cx="293.06" cy="197.28" r="2.6" fill="#f21010"/>
<circle cx="297.50" cy="197.35" r="2.6" fill="#f21010"/>
<circle cx="301.95" cy="197.42" r="2.6" fill="#f21010"/>
<circle cx="306.40" cy="197.50" r="2.6" fill="#f21010"/>
<circle cx="310.85" cy="197.59" r="2.6" fill="#f21010"/>
<circle cx="315.30" cy="197.69" r="2.6" fill="#f21010"/>
<circle cx="319.75" cy="197.78" r="2.6" fill="#f21010"/>
<circle cx="324.19" cy="197.87" r="2.6" fill="#f21010"/>
<circle cx="328.64" cy="197.97" r="2.6" fill="#f21010"/>
<circle cx="333.09" cy="198.06" r="2.6" fill="#f21010"/>
<rect x="72.8" y="5.3" width="260.10" height="210.50" fill="none" stroke="#2a2a2a" stroke-width="1.1"/>
<line x1="96.30" y1="215.8" x2="96.30" y2="211.30" stroke="#2a2a2a" stroke-width="1"/>
<line x1="96.30" y1="5.3" x2="96.30" y2="9.80" stroke="#2a2a2a" stroke-width="1"/>
<line x1="119.96" y1="215.8" x2="119.96" y2="213.30" stroke="#2a2a2a" stroke-width="1"/>
<line x1="119.96" y1="5.3" x2="119.96" y2="7.80" stroke="#2a2a2a" stroke-width="1"/>
<line x1="143.62" y1="215.8" x2="143.62" y2="211.30" stroke="#2a2a2a" stroke-width="1"/>
<line x1="143.62" y1="5.3" x2="143.62" y2="9.80" stroke="#2a2a2a" stroke-width="1"/>
<line x1="167.28" y1="215.8" x2="167.28" y2="213.30" stroke="#2a2a2a" stroke-width="1"/>
<line x1="167.28" y1="5.3" x2="167.28" y2="7.80" stroke="#2a2a2a" stroke-width="1"/>
<line x1="190.94" y1="215.8" x2="190.94" y2="211.30" stroke="#2a2a2a" stroke-width="1"/>
<line x1="190.94" y1="5.3" x2="190.94" y2="9.80" stroke="#2a2a2a" stroke-width="1"/>
<line x1="214.60" y1="215.8" x2="214.60" y2="213.30" stroke="#2a2a2a" stroke-width="1"/>
<line x1="214.60" y1="5.3" x2="214.60" y2="7.80" stroke="#2a2a2a" stroke-width="1"/>
<line x1="238.26" y1="215.8" x2="238.26" y2="211.30" stroke="#2a2a2a" stroke-width="1"/>
<line x1="238.26" y1="5.3" x2="238.26" y2="9.80" stroke="#2a2a2a" stroke-width="1"/>
<line x1="261.92" y1="215.8" x2="261.92" y2="213.30" stroke="#2a2a2a" stroke-width="1"/>
<line x1="261.92" y1="5.3" x2="261.92" y2="7.80" stroke="#2a2a2a" stroke-width="1"/>
<line x1="285.58" y1="215.8" x2="285.58" y2="211.30" stroke="#2a2a2a" stroke-width="1"/>
<line x1="285.58" y1="5.3" x2="285.58" y2="9.80" stroke="#2a2a2a" stroke-width="1"/>
<line x1="309.24" y1="215.8" x2="309.24" y2="213.30" stroke="#2a2a2a" stroke-width="1"/>
<line x1="309.24" y1="5.3" x2="309.24" y2="7.80" stroke="#2a2a2a" stroke-width="1"/>
<line x1="332.90" y1="215.8" x2="332.90" y2="211.30" stroke="#2a2a2a" stroke-width="1"/>
<line x1="332.90" y1="5.3" x2="332.90" y2="9.80" stroke="#2a2a2a" stroke-width="1"/>
<line x1="72.8" y1="215.80" x2="77.30" y2="215.80" stroke="#2a2a2a" stroke-width="1"/>
<line x1="332.9" y1="215.80" x2="328.40" y2="215.80" stroke="#2a2a2a" stroke-width="1"/>
<line x1="72.8" y1="185.73" x2="75.30" y2="185.73" stroke="#2a2a2a" stroke-width="1"/>
<line x1="332.9" y1="185.73" x2="330.40" y2="185.73" stroke="#2a2a2a" stroke-width="1"/>
<line x1="72.8" y1="155.66" x2="77.30" y2="155.66" stroke="#2a2a2a" stroke-width="1"/>
<line x1="332.9" y1="155.66" x2="328.40" y2="155.66" stroke="#2a2a2a" stroke-width="1"/>
<line x1="72.8" y1="125.59" x2="75.30" y2="125.59" stroke="#2a2a2a" stroke-width="1"/>
<line x1="332.9" y1="125.59" x2="330.40" y2="125.59" stroke="#2a2a2a" stroke-width="1"/>
<line x1="72.8" y1="95.52" x2="77.30" y2="95.52" stroke="#2a2a2a" stroke-width="1"/>
<line x1="332.9" y1="95.52" x2="328.40" y2="95.52" stroke="#2a2a2a" stroke-width="1"/>
<line x1="72.8" y1="65.45" x2="75.30" y2="65.45" stroke="#2a2a2a" stroke-width="1"/>
<line x1="332.9" y1="65.45" x2="330.40" y2="65.45" stroke="#2a2a2a" stroke-width="1"/>
<line x1="72.8" y1="35.38" x2="77.30" y2="35.38" stroke="#2a2a2a" stroke-width="1"/>
<line x1="332.9" y1="35.38" x2="328.40" y2="35.38" stroke="#2a2a2a" stroke-width="1"/>
<line x1="72.8" y1="5.31" x2="75.30" y2="5.31" stroke="#2a2a2a" stroke-width="1"/>
<line x1="332.9" y1="5.31" x2="330.40" y2="5.31" stroke="#2a2a2a" stroke-width="1"/>
<text x="96.50" y="232.40" font-size="13" font-weight="normal" text-anchor="middle" fill="#1e1e1e" stroke="#1e1e1e" stroke-width="0.22" textLength="8.10" lengthAdjust="spacingAndGlyphs">0</text>
<text x="143.82" y="232.40" font-size="13" font-weight="normal" text-anchor="middle" fill="#1e1e1e" stroke="#1e1e1e" stroke-width="0.22" textLength="16.19" lengthAdjust="spacingAndGlyphs">50</text>
<text x="191.14" y="232.40" font-size="13" font-weight="normal" text-anchor="middle" fill="#1e1e1e" stroke="#1e1e1e" stroke-width="0.22" textLength="24.29" lengthAdjust="spacingAndGlyphs">100</text>
<text x="238.46" y="232.40" font-size="13" font-weight="normal" text-anchor="middle" fill="#1e1e1e" stroke="#1e1e1e" stroke-width="0.22" textLength="24.29" lengthAdjust="spacingAndGlyphs">150</text>
<text x="285.78" y="232.40" font-size="13" font-weight="normal" text-anchor="middle" fill="#1e1e1e" stroke="#1e1e1e" stroke-width="0.22" textLength="24.29" lengthAdjust="spacingAndGlyphs">200</text>
<text x="333.10" y="232.40" font-size="13" font-weight="normal" text-anchor="middle" fill="#1e1e1e" stroke="#1e1e1e" stroke-width="0.22" textLength="24.29" lengthAdjust="spacingAndGlyphs">250</text>
<text x="68.50" y="217.60" font-size="12.8" font-weight="normal" text-anchor="end" fill="#1e1e1e" stroke="#1e1e1e" stroke-width="0.22" textLength="17.79" lengthAdjust="spacingAndGlyphs">0.0</text>
<text x="61.00" y="159.76" font-size="12.8" font-weight="normal" text-anchor="end" fill="#1e1e1e" stroke="#1e1e1e" stroke-width="0.22" textLength="38.04" lengthAdjust="spacingAndGlyphs">2.0x10</text>
<text x="61.90" y="153.96" font-size="7.6" font-weight="normal" text-anchor="start" fill="#1e1e1e" stroke="#1e1e1e" stroke-width="0.22">-6</text>
<text x="61.00" y="99.62" font-size="12.8" font-weight="normal" text-anchor="end" fill="#1e1e1e" stroke="#1e1e1e" stroke-width="0.22" textLength="38.04" lengthAdjust="spacingAndGlyphs">4.0x10</text>
<text x="61.90" y="93.82" font-size="7.6" font-weight="normal" text-anchor="start" fill="#1e1e1e" stroke="#1e1e1e" stroke-width="0.22">-6</text>
<text x="61.00" y="39.48" font-size="12.8" font-weight="normal" text-anchor="end" fill="#1e1e1e" stroke="#1e1e1e" stroke-width="0.22" textLength="38.04" lengthAdjust="spacingAndGlyphs">6.0x10</text>
<text x="61.90" y="33.68" font-size="7.6" font-weight="normal" text-anchor="start" fill="#1e1e1e" stroke="#1e1e1e" stroke-width="0.22">-6</text>
<text x="143.30" y="248.00" font-size="14.6" font-weight="bold" fill="#111" textLength="109.33" lengthAdjust="spacingAndGlyphs">Temperature (K)</text>
<text transform="translate(16.7,187.6) rotate(-90)" font-size="17.5" font-weight="bold" fill="#111"><tspan x="-0.3" y="0.6" font-weight="normal" font-size="16">&#967;</tspan><tspan x="10.0" y="4.2" font-size="11.8">DC</tspan><tspan x="27.8" y="0" font-weight="normal" font-size="15">(</tspan><tspan x="33.6" y="0" font-weight="normal" font-size="13">&#956;</tspan><tspan x="44.3" y="4.2" font-weight="normal" font-size="9" font-family="'Liberation Serif', serif">B</tspan><tspan x="53" y="-1" font-size="9">&#183;</tspan><tspan x="59.6" y="0">f.u.</tspan><tspan x="88.6" y="-7.5" font-size="10">-1</tspan><tspan x="97" y="-1" font-size="9">&#183;</tspan><tspan x="104.3" y="0">Oe</tspan><tspan x="127.6" y="-7.5" font-size="10">-1</tspan><tspan x="135.2" y="0" font-weight="normal" font-size="15">)</tspan></text>
<text x="259.27" y="54.80" font-size="12.3" font-weight="bold" fill="#111" textLength="44.48" lengthAdjust="spacingAndGlyphs">LSFO 2</text>
<text x="258.92" y="81.00" font-size="12.3" font-weight="bold" fill="#111" textLength="53.49" lengthAdjust="spacingAndGlyphs">H=2 kOe</text>
<line x1="259.4" y1="104" x2="277" y2="104" stroke="#2a2aa8" stroke-width="1.3"/>
<rect x="266.6" y="102.2" width="3.6" height="3.6" fill="#fff" stroke="#3c3cc8" stroke-width="0.9"/>
<text x="284.49" y="107.10" font-size="12.3" font-weight="bold" fill="#111" textLength="25.16" lengthAdjust="spacingAndGlyphs">H<tspan font-weight="normal" fill="#444">&#8869;</tspan>c</text>
<line x1="259.4" y1="133.2" x2="277" y2="133.2" stroke="#f21010" stroke-width="1.4"/>
<circle cx="268.4" cy="133.2" r="2.4" fill="#f21010"/>
<text x="284.49" y="136.10" font-size="12.3" font-weight="bold" fill="#111" textLength="25.16" lengthAdjust="spacingAndGlyphs">H//c</text>
<text x="1.65" y="16.70" font-size="21.5" font-weight="bold" fill="#000" textLength="11.32" lengthAdjust="spacingAndGlyphs">a</text>
<line x1="413.3" y1="117.40" x2="679.5" y2="117.40" stroke="#2a2a2a" stroke-width="1.1"/>
<line x1="498.00" y1="2.5" x2="498.00" y2="218.0" stroke="#2a2a2a" stroke-width="1.1"/>
<polyline points="498.00,117.40 499.45,116.53 500.90,115.67 502.36,114.81 503.81,113.94 505.26,113.08 506.71,112.21 508.16,111.35 509.62,110.49 511.07,109.63 512.52,108.76 513.97,107.90 515.42,107.04 516.88,106.18 518.33,105.32 519.78,104.46 521.23,103.60 523.17,102.45 525.10,101.31 527.04,100.16 528.98,99.02 530.91,97.87 532.85,96.73 534.78,95.59 536.72,94.45 539.14,93.02 541.56,91.60 543.98,90.17 546.40,88.75 552.69,85.05 558.98,81.36 565.03,77.82 571.08,74.28 583.18,67.23 594.80,60.48 607.38,53.20 619.48,46.22 631.83,39.12 643.93,32.19 655.78,25.42 667.40,18.81" fill="none" stroke="#2a2ac8" stroke-width="1.15"/>
<rect x="495.90" y="115.30" width="4.2" height="4.2" fill="#fff" stroke="#3333cc" stroke-width="1.05"/>
<rect x="497.35" y="114.43" width="4.2" height="4.2" fill="#fff" stroke="#3333cc" stroke-width="1.05"/>
<rect x="498.80" y="113.57" width="4.2" height="4.2" fill="#fff" stroke="#3333cc" stroke-width="1.05"/>
<rect x="500.26" y="112.71" width="4.2" height="4.2" fill="#fff" stroke="#3333cc" stroke-width="1.05"/>
<rect x="501.71" y="111.84" width="4.2" height="4.2" fill="#fff" stroke="#3333cc" stroke-width="1.05"/>
<rect x="503.16" y="110.98" width="4.2" height="4.2" fill="#fff" stroke="#3333cc" stroke-width="1.05"/>
<rect x="504.61" y="110.11" width="4.2" height="4.2" fill="#fff" stroke="#3333cc" stroke-width="1.05"/>
<rect x="506.06" y="109.25" width="4.2" height="4.2" fill="#fff" stroke="#3333cc" stroke-width="1.05"/>
<rect x="507.52" y="108.39" width="4.2" height="4.2" fill="#fff" stroke="#3333cc" stroke-width="1.05"/>
<rect x="508.97" y="107.53" width="4.2" height="4.2" fill="#fff" stroke="#3333cc" stroke-width="1.05"/>
<rect x="510.42" y="106.66" width="4.2" height="4.2" fill="#fff" stroke="#3333cc" stroke-width="1.05"/>
<rect x="511.87" y="105.80" width="4.2" height="4.2" fill="#fff" stroke="#3333cc" stroke-width="1.05"/>
<rect x="513.32" y="104.94" width="4.2" height="4.2" fill="#fff" stroke="#3333cc" stroke-width="1.05"/>
<rect x="514.78" y="104.08" width="4.2" height="4.2" fill="#fff" stroke="#3333cc" stroke-width="1.05"/>
<rect x="516.23" y="103.22" width="4.2" height="4.2" fill="#fff" stroke="#3333cc" stroke-width="1.05"/>
<rect x="517.68" y="102.36" width="4.2" height="4.2" fill="#fff" stroke="#3333cc" stroke-width="1.05"/>
<rect x="519.13" y="101.50" width="4.2" height="4.2" fill="#fff" stroke="#3333cc" stroke-width="1.05"/>
<rect x="521.07" y="100.35" width="4.2" height="4.2" fill="#fff" stroke="#3333cc" stroke-width="1.05"/>
<rect x="523.00" y="99.21" width="4.2" height="4.2" fill="#fff" stroke="#3333cc" stroke-width="1.05"/>
<rect x="524.94" y="98.06" width="4.2" height="4.2" fill="#fff" stroke="#3333cc" stroke-width="1.05"/>
<rect x="526.88" y="96.92" width="4.2" height="4.2" fill="#fff" stroke="#3333cc" stroke-width="1.05"/>
<rect x="528.81" y="95.77" width="4.2" height="4.2" fill="#fff" stroke="#3333cc" stroke-width="1.05"/>
<rect x="530.75" y="94.63" width="4.2" height="4.2" fill="#fff" stroke="#3333cc" stroke-width="1.05"/>
<rect x="532.68" y="93.49" width="4.2" height="4.2" fill="#fff" stroke="#3333cc" stroke-width="1.05"/>
<rect x="534.62" y="92.35" width="4.2" height="4.2" fill="#fff" stroke="#3333cc" stroke-width="1.05"/>
<rect x="537.04" y="90.92" width="4.2" height="4.2" fill="#fff" stroke="#3333cc" stroke-width="1.05"/>
<rect x="539.46" y="89.50" width="4.2" height="4.2" fill="#fff" stroke="#3333cc" stroke-width="1.05"/>
<rect x="541.88" y="88.07" width="4.2" height="4.2" fill="#fff" stroke="#3333cc" stroke-width="1.05"/>
<rect x="544.30" y="86.65" width="4.2" height="4.2" fill="#fff" stroke="#3333cc" stroke-width="1.05"/>
<rect x="550.59" y="82.95" width="4.2" height="4.2" fill="#fff" stroke="#3333cc" stroke-width="1.05"/>
<rect x="556.88" y="79.26" width="4.2" height="4.2" fill="#fff" stroke="#3333cc" stroke-width="1.05"/>
<rect x="562.93" y="75.72" width="4.2" height="4.2" fill="#fff" stroke="#3333cc" stroke-width="1.05"/>
<rect x="568.98" y="72.18" width="4.2" height="4.2" fill="#fff" stroke="#3333cc" stroke-width="1.05"/>
<rect x="581.08" y="65.13" width="4.2" height="4.2" fill="#fff" stroke="#3333cc" stroke-width="1.05"/>
<rect x="592.70" y="58.38" width="4.2" height="4.2" fill="#fff" stroke="#3333cc" stroke-width="1.05"/>
<rect x="605.28" y="51.10" width="4.2" height="4.2" fill="#fff" stroke="#3333cc" stroke-width="1.05"/>
<rect x="617.38" y="44.12" width="4.2" height="4.2" fill="#fff" stroke="#3333cc" stroke-width="1.05"/>
<rect x="629.73" y="37.02" width="4.2" height="4.2" fill="#fff" stroke="#3333cc" stroke-width="1.05"/>
<rect x="641.83" y="30.09" width="4.2" height="4.2" fill="#fff" stroke="#3333cc" stroke-width="1.05"/>
<rect x="653.68" y="23.32" width="4.2" height="4.2" fill="#fff" stroke="#3333cc" stroke-width="1.05"/>
<rect x="665.30" y="16.71" width="4.2" height="4.2" fill="#fff" stroke="#3333cc" stroke-width="1.05"/>
<polyline points="570.60,55.92 564.55,60.23 558.02,63.96 552.21,68.27 546.40,71.72 534.30,80.63 520.75,90.97 508.41,99.87 497.76,107.06 485.42,116.83 481.06,123.72 478.40,130.90 476.70,136.07 473.07,140.67 461.70,149.58 449.60,159.06 443.79,163.37 437.98,167.96 431.45,172.85 425.40,178.02" fill="none" stroke="#000" stroke-width="1.6"/>
<polyline points="425.40,178.02 431.45,173.14 437.98,168.25 443.79,163.66 449.60,159.63 461.70,150.44 473.07,141.53 485.42,134.35 497.76,125.44 508.41,116.83 513.73,109.64 516.39,102.46 519.05,95.28 520.75,90.97 534.30,80.91 546.40,71.72 552.21,68.27 558.02,63.96 564.55,60.23 570.60,55.92" fill="none" stroke="#000" stroke-width="1.6"/>
<path d="M449.60,155.86 L452.60,161.26 L446.60,161.26Z" fill="#000"/>
<path d="M450.93,154.82 L453.93,160.22 L447.93,160.22Z" fill="#000"/>
<path d="M452.26,153.77 L455.26,159.17 L449.26,159.17Z" fill="#000"/>
<path d="M453.59,152.73 L456.59,158.13 L450.59,158.13Z" fill="#000"/>
<path d="M454.92,151.69 L457.92,157.09 L451.92,157.09Z" fill="#000"/>
<path d="M456.25,150.64 L459.25,156.04 L453.25,156.04Z" fill="#000"/>
<path d="M457.59,149.60 L460.59,155.00 L454.59,155.00Z" fill="#000"/>
<path d="M458.92,148.56 L461.92,153.96 L455.92,153.96Z" fill="#000"/>
<path d="M460.25,147.52 L463.25,152.92 L457.25,152.92Z" fill="#000"/>
<path d="M461.58,146.47 L464.58,151.87 L458.58,151.87Z" fill="#000"/>
<path d="M462.91,145.43 L465.91,150.83 L459.91,150.83Z" fill="#000"/>
<path d="M464.24,144.39 L467.24,149.79 L461.24,149.79Z" fill="#000"/>
<path d="M465.57,143.35 L468.57,148.75 L462.57,148.75Z" fill="#000"/>
<path d="M466.90,142.30 L469.90,147.70 L463.90,147.70Z" fill="#000"/>
<path d="M468.23,141.26 L471.23,146.66 L465.23,146.66Z" fill="#000"/>
<path d="M469.57,140.22 L472.57,145.62 L466.57,145.62Z" fill="#000"/>
<path d="M470.90,139.18 L473.90,144.58 L467.90,144.58Z" fill="#000"/>
<path d="M472.23,138.13 L475.23,143.53 L469.23,143.53Z" fill="#000"/>
<path d="M473.56,136.86 L476.56,142.26 L470.56,142.26Z" fill="#000"/>
<path d="M474.89,135.17 L477.89,140.57 L471.89,140.57Z" fill="#000"/>
<path d="M476.22,133.49 L479.22,138.89 L473.22,138.89Z" fill="#000"/>
<path d="M477.55,130.29 L480.55,135.69 L474.55,135.69Z" fill="#000"/>
<path d="M478.88,126.40 L481.88,131.80 L475.88,131.80Z" fill="#000"/>
<path d="M480.21,122.81 L483.21,128.21 L477.21,128.21Z" fill="#000"/>
<path d="M481.54,119.75 L484.54,125.15 L478.54,125.15Z" fill="#000"/>
<path d="M482.88,117.65 L485.88,123.05 L479.88,123.05Z" fill="#000"/>
<path d="M484.21,115.54 L487.21,120.94 L481.21,120.94Z" fill="#000"/>
<path d="M485.54,113.53 L488.54,118.93 L482.54,118.93Z" fill="#000"/>
<path d="M486.87,112.48 L489.87,117.88 L483.87,117.88Z" fill="#000"/>
<path d="M488.20,111.42 L491.20,116.82 L485.20,116.82Z" fill="#000"/>
<path d="M489.53,110.37 L492.53,115.77 L486.53,115.77Z" fill="#000"/>
<path d="M490.86,109.32 L493.86,114.72 L487.86,114.72Z" fill="#000"/>
<path d="M492.19,108.26 L495.19,113.66 L489.19,113.66Z" fill="#000"/>
<path d="M493.52,107.21 L496.52,112.61 L490.52,112.61Z" fill="#000"/>
<path d="M494.85,106.16 L497.85,111.56 L491.85,111.56Z" fill="#000"/>
<path d="M496.19,105.10 L499.19,110.50 L493.19,110.50Z" fill="#000"/>
<path d="M497.52,104.05 L500.52,109.45 L494.52,109.45Z" fill="#000"/>
<path d="M498.85,103.12 L501.85,108.52 L495.85,108.52Z" fill="#000"/>
<path d="M500.18,102.22 L503.18,107.62 L497.18,107.62Z" fill="#000"/>
<path d="M501.51,101.33 L504.51,106.73 L498.51,106.73Z" fill="#000"/>
<path d="M502.84,100.43 L505.84,105.83 L499.84,105.83Z" fill="#000"/>
<path d="M504.17,99.53 L507.17,104.93 L501.17,104.93Z" fill="#000"/>
<path d="M505.50,98.63 L508.50,104.03 L502.50,104.03Z" fill="#000"/>
<path d="M506.83,97.74 L509.83,103.14 L503.83,103.14Z" fill="#000"/>
<path d="M508.16,96.84 L511.16,102.24 L505.16,102.24Z" fill="#000"/>
<path d="M509.50,95.89 L512.50,101.29 L506.50,101.29Z" fill="#000"/>
<path d="M510.83,94.93 L513.83,100.33 L507.83,100.33Z" fill="#000"/>
<path d="M512.16,93.97 L515.16,99.37 L509.16,99.37Z" fill="#000"/>
<path d="M513.49,93.01 L516.49,98.41 L510.49,98.41Z" fill="#000"/>
<path d="M514.82,92.05 L517.82,97.45 L511.82,97.45Z" fill="#000"/>
<path d="M516.15,91.09 L519.15,96.49 L513.15,96.49Z" fill="#000"/>
<path d="M517.48,90.13 L520.48,95.53 L514.48,95.53Z" fill="#000"/>
<path d="M518.81,89.17 L521.81,94.57 L515.81,94.57Z" fill="#000"/>
<path d="M520.14,88.20 L523.14,93.60 L517.14,93.60Z" fill="#000"/>
<path d="M521.47,87.21 L524.47,92.61 L518.47,92.61Z" fill="#000"/>
<path d="M522.81,86.20 L525.81,91.60 L519.81,91.60Z" fill="#000"/>
<path d="M524.14,85.18 L527.14,90.58 L521.14,90.58Z" fill="#000"/>
<path d="M525.47,84.17 L528.47,89.57 L522.47,89.57Z" fill="#000"/>
<path d="M526.80,83.15 L529.80,88.55 L523.80,88.55Z" fill="#000"/>
<path d="M528.13,82.14 L531.13,87.54 L525.13,87.54Z" fill="#000"/>
<path d="M529.46,81.12 L532.46,86.52 L526.46,86.52Z" fill="#000"/>
<path d="M530.79,80.10 L533.79,85.50 L527.79,85.50Z" fill="#000"/>
<path d="M532.12,79.09 L535.12,84.49 L529.12,84.49Z" fill="#000"/>
<path d="M533.45,78.07 L536.45,83.47 L530.45,83.47Z" fill="#000"/>
<path d="M534.78,77.07 L537.78,82.47 L531.78,82.47Z" fill="#000"/>
<path d="M536.12,76.09 L539.12,81.49 L533.12,81.49Z" fill="#000"/>
<path d="M537.45,75.11 L540.45,80.51 L534.45,80.51Z" fill="#000"/>
<path d="M538.78,74.13 L541.78,79.53 L535.78,79.53Z" fill="#000"/>
<path d="M540.11,73.15 L543.11,78.55 L537.11,78.55Z" fill="#000"/>
<path d="M541.44,72.17 L544.44,77.57 L538.44,77.57Z" fill="#000"/>
<path d="M542.77,71.19 L545.77,76.59 L539.77,76.59Z" fill="#000"/>
<path d="M544.10,70.21 L547.10,75.61 L541.10,75.61Z" fill="#000"/>
<path d="M545.43,69.23 L548.43,74.63 L542.43,74.63Z" fill="#000"/>
<path d="M425.40,174.82 L428.40,180.22 L422.40,180.22Z" fill="#000"/>
<path d="M431.45,169.65 L434.45,175.05 L428.45,175.05Z" fill="#000"/>
<path d="M437.98,164.76 L440.98,170.16 L434.98,170.16Z" fill="#000"/>
<path d="M443.79,160.17 L446.79,165.57 L440.79,165.57Z" fill="#000"/>
<path d="M552.21,65.07 L555.21,70.47 L549.21,70.47Z" fill="#000"/>
<path d="M558.02,60.76 L561.02,66.16 L555.02,66.16Z" fill="#000"/>
<path d="M564.55,57.03 L567.55,62.43 L561.55,62.43Z" fill="#000"/>
<path d="M570.60,52.72 L573.60,58.12 L567.60,58.12Z" fill="#000"/>
<path d="M449.60,156.43 L452.60,161.83 L446.60,161.83Z" fill="#000"/>
<path d="M450.93,155.42 L453.93,160.82 L447.93,160.82Z" fill="#000"/>
<path d="M452.26,154.41 L455.26,159.81 L449.26,159.81Z" fill="#000"/>
<path d="M453.59,153.40 L456.59,158.80 L450.59,158.80Z" fill="#000"/>
<path d="M454.92,152.39 L457.92,157.79 L451.92,157.79Z" fill="#000"/>
<path d="M456.25,151.38 L459.25,156.78 L453.25,156.78Z" fill="#000"/>
<path d="M457.59,150.37 L460.59,155.77 L454.59,155.77Z" fill="#000"/>
<path d="M458.92,149.35 L461.92,154.75 L455.92,154.75Z" fill="#000"/>
<path d="M460.25,148.34 L463.25,153.74 L457.25,153.74Z" fill="#000"/>
<path d="M461.58,147.33 L464.58,152.73 L458.58,152.73Z" fill="#000"/>
<path d="M462.91,146.29 L465.91,151.69 L459.91,151.69Z" fill="#000"/>
<path d="M464.24,145.25 L467.24,150.65 L461.24,150.65Z" fill="#000"/>
<path d="M465.57,144.21 L468.57,149.61 L462.57,149.61Z" fill="#000"/>
<path d="M466.90,143.17 L469.90,148.57 L463.90,148.57Z" fill="#000"/>
<path d="M468.23,142.12 L471.23,147.52 L465.23,147.52Z" fill="#000"/>
<path d="M469.57,141.08 L472.57,146.48 L466.57,146.48Z" fill="#000"/>
<path d="M470.90,140.04 L473.90,145.44 L467.90,145.44Z" fill="#000"/>
<path d="M472.23,139.00 L475.23,144.40 L469.23,144.40Z" fill="#000"/>
<path d="M473.56,138.05 L476.56,143.45 L470.56,143.45Z" fill="#000"/>
<path d="M474.89,137.28 L477.89,142.68 L471.89,142.68Z" fill="#000"/>
<path d="M476.22,136.50 L479.22,141.90 L473.22,141.90Z" fill="#000"/>
<path d="M477.55,135.73 L480.55,141.13 L474.55,141.13Z" fill="#000"/>
<path d="M478.88,134.95 L481.88,140.35 L475.88,140.35Z" fill="#000"/>
<path d="M480.21,134.18 L483.21,139.58 L477.21,139.58Z" fill="#000"/>
<path d="M481.54,133.40 L484.54,138.80 L478.54,138.80Z" fill="#000"/>
<path d="M482.88,132.63 L485.88,138.03 L479.88,138.03Z" fill="#000"/>
<path d="M484.21,131.85 L487.21,137.25 L481.21,137.25Z" fill="#000"/>
<path d="M485.54,131.06 L488.54,136.46 L482.54,136.46Z" fill="#000"/>
<path d="M486.87,130.10 L489.87,135.50 L483.87,135.50Z" fill="#000"/>
<path d="M488.20,129.14 L491.20,134.54 L485.20,134.54Z" fill="#000"/>
<path d="M489.53,128.18 L492.53,133.58 L486.53,133.58Z" fill="#000"/>
<path d="M490.86,127.22 L493.86,132.62 L487.86,132.62Z" fill="#000"/>
<path d="M492.19,126.26 L495.19,131.66 L489.19,131.66Z" fill="#000"/>
<path d="M493.52,125.30 L496.52,130.70 L490.52,130.70Z" fill="#000"/>
<path d="M494.85,124.34 L497.85,129.74 L491.85,129.74Z" fill="#000"/>
<path d="M496.19,123.38 L499.19,128.78 L493.19,128.78Z" fill="#000"/>
<path d="M497.52,122.42 L500.52,127.82 L494.52,127.82Z" fill="#000"/>
<path d="M498.85,121.36 L501.85,126.76 L495.85,126.76Z" fill="#000"/>
<path d="M500.18,120.29 L503.18,125.69 L497.18,125.69Z" fill="#000"/>
<path d="M501.51,119.21 L504.51,124.61 L498.51,124.61Z" fill="#000"/>
<path d="M502.84,118.13 L505.84,123.53 L499.84,123.53Z" fill="#000"/>
<path d="M504.17,117.05 L507.17,122.45 L501.17,122.45Z" fill="#000"/>
<path d="M505.50,115.98 L508.50,121.38 L502.50,121.38Z" fill="#000"/>
<path d="M506.83,114.90 L509.83,120.30 L503.83,120.30Z" fill="#000"/>
<path d="M508.16,113.82 L511.16,119.22 L505.16,119.22Z" fill="#000"/>
<path d="M509.50,112.16 L512.50,117.56 L506.50,117.56Z" fill="#000"/>
<path d="M510.83,110.36 L513.83,115.76 L507.83,115.76Z" fill="#000"/>
<path d="M512.16,108.57 L515.16,113.97 L509.16,113.97Z" fill="#000"/>
<path d="M513.49,106.77 L516.49,112.17 L510.49,112.17Z" fill="#000"/>
<path d="M514.82,103.50 L517.82,108.90 L511.82,108.90Z" fill="#000"/>
<path d="M516.15,99.91 L519.15,105.31 L513.15,105.31Z" fill="#000"/>
<path d="M517.48,96.32 L520.48,101.72 L514.48,101.72Z" fill="#000"/>
<path d="M518.81,92.73 L521.81,98.13 L515.81,98.13Z" fill="#000"/>
<path d="M520.14,89.31 L523.14,94.71 L517.14,94.71Z" fill="#000"/>
<path d="M521.47,87.23 L524.47,92.63 L518.47,92.63Z" fill="#000"/>
<path d="M522.81,86.24 L525.81,91.64 L519.81,91.64Z" fill="#000"/>
<path d="M524.14,85.25 L527.14,90.65 L521.14,90.65Z" fill="#000"/>
<path d="M525.47,84.27 L528.47,89.67 L522.47,89.67Z" fill="#000"/>
<path d="M526.80,83.28 L529.80,88.68 L523.80,88.68Z" fill="#000"/>
<path d="M528.13,82.29 L531.13,87.69 L525.13,87.69Z" fill="#000"/>
<path d="M529.46,81.30 L532.46,86.70 L526.46,86.70Z" fill="#000"/>
<path d="M530.79,80.32 L533.79,85.72 L527.79,85.72Z" fill="#000"/>
<path d="M532.12,79.33 L535.12,84.73 L529.12,84.73Z" fill="#000"/>
<path d="M533.45,78.34 L536.45,83.74 L530.45,83.74Z" fill="#000"/>
<path d="M534.78,77.35 L537.78,82.75 L531.78,82.75Z" fill="#000"/>
<path d="M536.12,76.33 L539.12,81.73 L533.12,81.73Z" fill="#000"/>
<path d="M537.45,75.32 L540.45,80.72 L534.45,80.72Z" fill="#000"/>
<path d="M538.78,74.31 L541.78,79.71 L535.78,79.71Z" fill="#000"/>
<path d="M540.11,73.30 L543.11,78.70 L537.11,78.70Z" fill="#000"/>
<path d="M541.44,72.29 L544.44,77.69 L538.44,77.69Z" fill="#000"/>
<path d="M542.77,71.28 L545.77,76.68 L539.77,76.68Z" fill="#000"/>
<path d="M544.10,70.27 L547.10,75.67 L541.10,75.67Z" fill="#000"/>
<path d="M545.43,69.25 L548.43,74.65 L542.43,74.65Z" fill="#000"/>
<path d="M425.40,174.82 L428.40,180.22 L422.40,180.22Z" fill="#000"/>
<path d="M431.45,169.94 L434.45,175.34 L428.45,175.34Z" fill="#000"/>
<path d="M437.98,165.05 L440.98,170.45 L434.98,170.45Z" fill="#000"/>
<path d="M443.79,160.46 L446.79,165.86 L440.79,165.86Z" fill="#000"/>
<path d="M552.21,65.07 L555.21,70.47 L549.21,70.47Z" fill="#000"/>
<path d="M558.02,60.76 L561.02,66.16 L555.02,66.16Z" fill="#000"/>
<path d="M564.55,57.03 L567.55,62.43 L561.55,62.43Z" fill="#000"/>
<path d="M570.60,52.72 L573.60,58.12 L567.60,58.12Z" fill="#000"/>
<path d="M472.59,137.85 L475.59,143.25 L469.59,143.25Z" fill="#000"/>
<path d="M473.19,137.32 L476.19,142.72 L470.19,142.72Z" fill="#000"/>
<path d="M473.80,136.55 L476.80,141.95 L470.80,141.95Z" fill="#000"/>
<path d="M474.40,135.79 L477.40,141.19 L471.40,141.19Z" fill="#000"/>
<path d="M475.01,135.02 L478.01,140.42 L472.01,140.42Z" fill="#000"/>
<path d="M475.62,134.25 L478.62,139.65 L472.62,139.65Z" fill="#000"/>
<path d="M476.22,133.49 L479.22,138.89 L473.22,138.89Z" fill="#000"/>
<path d="M476.82,132.51 L479.82,137.91 L473.82,137.91Z" fill="#000"/>
<path d="M477.43,130.66 L480.43,136.06 L474.43,136.06Z" fill="#000"/>
<path d="M478.04,128.81 L481.04,134.21 L475.04,134.21Z" fill="#000"/>
<path d="M478.64,127.05 L481.64,132.45 L475.64,132.45Z" fill="#000"/>
<path d="M479.25,125.42 L482.25,130.82 L476.25,130.82Z" fill="#000"/>
<path d="M479.85,123.79 L482.85,129.19 L476.85,129.19Z" fill="#000"/>
<path d="M480.45,122.15 L483.45,127.55 L477.45,127.55Z" fill="#000"/>
<path d="M481.06,120.52 L484.06,125.92 L478.06,125.92Z" fill="#000"/>
<path d="M481.67,119.56 L484.67,124.96 L478.67,124.96Z" fill="#000"/>
<path d="M482.27,118.61 L485.27,124.01 L479.27,124.01Z" fill="#000"/>
<path d="M482.88,117.65 L485.88,123.05 L479.88,123.05Z" fill="#000"/>
<path d="M483.48,116.69 L486.48,122.09 L480.48,122.09Z" fill="#000"/>
<path d="M484.08,115.73 L487.08,121.13 L481.08,121.13Z" fill="#000"/>
<path d="M484.69,114.77 L487.69,120.17 L481.69,120.17Z" fill="#000"/>
<path d="M485.30,113.82 L488.30,119.22 L482.30,119.22Z" fill="#000"/>
<path d="M485.90,113.24 L488.90,118.64 L482.90,118.64Z" fill="#000"/>
<path d="M508.16,113.82 L511.16,119.22 L505.16,119.22Z" fill="#000"/>
<path d="M508.77,113.14 L511.77,118.54 L505.77,118.54Z" fill="#000"/>
<path d="M509.37,112.32 L512.37,117.72 L506.37,117.72Z" fill="#000"/>
<path d="M509.98,111.50 L512.98,116.90 L506.98,116.90Z" fill="#000"/>
<path d="M510.58,110.69 L513.58,116.09 L507.58,116.09Z" fill="#000"/>
<path d="M511.19,109.87 L514.19,115.27 L508.19,115.27Z" fill="#000"/>
<path d="M511.79,109.05 L514.79,114.45 L508.79,114.45Z" fill="#000"/>
<path d="M512.40,108.24 L515.40,113.64 L509.40,113.64Z" fill="#000"/>
<path d="M513.00,107.42 L516.00,112.82 L510.00,112.82Z" fill="#000"/>
<path d="M513.61,106.61 L516.61,112.01 L510.61,112.01Z" fill="#000"/>
<path d="M514.21,105.14 L517.21,110.54 L511.21,110.54Z" fill="#000"/>
<path d="M514.82,103.50 L517.82,108.90 L511.82,108.90Z" fill="#000"/>
<path d="M515.42,101.87 L518.42,107.27 L512.42,107.27Z" fill="#000"/>
<path d="M516.03,100.24 L519.03,105.64 L513.03,105.64Z" fill="#000"/>
<path d="M516.63,98.61 L519.63,104.01 L513.63,104.01Z" fill="#000"/>
<path d="M517.24,96.98 L520.24,102.38 L514.24,102.38Z" fill="#000"/>
<path d="M517.84,95.34 L520.84,100.74 L514.84,100.74Z" fill="#000"/>
<path d="M518.45,93.71 L521.45,99.11 L515.45,99.11Z" fill="#000"/>
<path d="M519.05,92.08 L522.05,97.48 L516.05,97.48Z" fill="#000"/>
<path d="M519.66,90.54 L522.66,95.94 L516.66,95.94Z" fill="#000"/>
<path d="M520.26,89.00 L523.26,94.40 L517.26,94.40Z" fill="#000"/>
<path d="M520.87,87.68 L523.87,93.08 L517.87,93.08Z" fill="#000"/>
<polyline points="570.60,41.84 569.39,42.52 568.18,43.21 566.97,43.90 565.76,44.60 564.55,45.30 563.34,46.00 562.13,46.70 560.92,47.41 559.71,48.13 558.50,48.84 557.29,49.56 556.08,50.29 554.87,51.01 553.66,51.74 552.45,52.48 551.24,53.22 550.03,53.96 548.82,54.70 547.61,55.45 546.40,56.21 545.19,56.96 543.98,57.72 542.77,58.48 541.56,59.25 540.35,60.02 539.14,60.79 537.93,61.57 536.72,62.35 535.51,63.14 534.30,63.93 533.09,64.72 531.88,65.51 530.67,66.31 529.46,67.12 528.25,67.92 527.04,68.73 525.83,69.54 524.62,70.36 523.41,71.18 522.20,72.01 520.99,72.83 519.78,73.67 518.57,74.50 517.36,75.34 516.15,76.18 514.94,77.03 513.73,77.88 512.52,78.73 511.31,79.59 510.10,80.45 508.89,81.31 507.68,82.18 506.47,83.05 505.26,83.92 504.05,84.80 502.84,85.68 501.63,86.57 500.42,87.46 499.21,88.35 498.00,89.24 496.79,90.14 495.58,91.05 494.37,91.95 493.16,92.86 492.43,91.54 491.71,104.76 490.74,128.32 488.80,147.57 487.59,153.14 486.38,154.01 485.17,154.87 483.96,155.73 482.75,156.58 481.54,157.43 480.33,158.28 479.12,159.12 477.91,159.96 476.70,160.80 475.49,161.63 474.28,162.46 473.07,163.29 471.86,164.11 470.65,164.93 469.44,165.74 468.23,166.55 467.02,167.36 465.81,168.17 464.60,168.97 463.39,169.76 462.18,170.56 460.97,171.35 459.76,172.13 458.55,172.92 457.34,173.69 456.13,174.47 454.92,175.24 453.71,176.01 452.50,176.77 451.29,177.54 450.08,178.29 448.87,179.05 447.66,179.80 446.45,180.54 445.24,181.29 444.03,182.03 442.82,182.76 441.61,183.49 440.40,184.22 439.19,184.95 437.98,185.67 436.77,186.39 435.56,187.10 434.35,187.81 433.14,188.52 431.93,189.22 430.72,189.92 429.51,190.62 428.30,191.31 427.09,192.00 425.88,192.69" fill="none" stroke="#ee1111" stroke-width="1.5"/>
<polyline points="425.40,192.96 426.61,192.28 427.82,191.59 429.03,190.90 430.24,190.20 431.45,189.50 432.66,188.80 433.87,188.10 435.08,187.39 436.29,186.67 437.50,185.96 438.71,185.24 439.92,184.51 441.13,183.79 442.34,183.06 443.55,182.32 444.76,181.58 445.97,180.84 447.18,180.10 448.39,179.35 449.60,178.59 450.81,177.84 452.02,177.08 453.23,176.32 454.44,175.55 455.65,174.78 456.86,174.01 458.07,173.23 459.28,172.45 460.49,171.66 461.70,170.87 462.91,170.08 464.12,169.29 465.33,168.49 466.54,167.68 467.75,166.88 468.96,166.07 470.17,165.26 471.38,164.44 472.59,163.62 473.80,162.79 475.01,161.97 476.22,161.13 477.43,160.30 478.64,159.46 479.85,158.62 481.06,157.77 482.27,156.92 483.48,156.07 484.69,155.21 485.90,154.35 487.11,153.49 488.32,152.62 489.53,151.75 490.74,150.88 491.95,150.00 493.16,149.12 494.37,148.23 495.58,147.34 496.79,146.45 498.00,145.56 499.21,144.66 500.42,143.75 501.63,142.85 502.84,141.94 503.01,140.38 504.29,126.02 505.50,105.05 506.71,87.23 507.92,82.00 509.13,81.14 510.34,80.27 511.55,79.41 512.76,78.56 513.97,77.71 515.18,76.86 516.39,76.01 517.60,75.17 518.81,74.33 520.02,73.50 521.23,72.67 522.44,71.84 523.65,71.02 524.86,70.20 526.07,69.38 527.28,68.57 528.49,67.76 529.70,66.95 530.91,66.15 532.12,65.35 533.33,64.56 534.54,63.77 535.75,62.98 536.96,62.20 538.17,61.42 539.38,60.64 540.59,59.87 541.80,59.10 543.01,58.33 544.22,57.57 545.43,56.81 546.64,56.05 547.85,55.30 549.06,54.55 550.27,53.81 551.48,53.07 552.69,52.33 553.90,51.60 555.11,50.87 556.32,50.14 557.53,49.42 558.74,48.70 559.95,47.98 561.16,47.27 562.37,46.56 563.58,45.86 564.79,45.16 566.00,44.46 567.21,43.76 568.42,43.07 569.63,42.39" fill="none" stroke="#ee1111" stroke-width="1.5"/>
<circle cx="449.60" cy="178.59" r="2.8" fill="#ee1111"/>
<circle cx="450.81" cy="177.84" r="2.8" fill="#ee1111"/>
<circle cx="452.02" cy="177.08" r="2.8" fill="#ee1111"/>
<circle cx="453.23" cy="176.32" r="2.8" fill="#ee1111"/>
<circle cx="454.44" cy="175.55" r="2.8" fill="#ee1111"/>
<circle cx="455.65" cy="174.78" r="2.8" fill="#ee1111"/>
<circle cx="456.86" cy="174.01" r="2.8" fill="#ee1111"/>
<circle cx="458.07" cy="173.23" r="2.8" fill="#ee1111"/>
<circle cx="459.28" cy="172.45" r="2.8" fill="#ee1111"/>
<circle cx="460.49" cy="171.66" r="2.8" fill="#ee1111"/>
<circle cx="461.70" cy="170.87" r="2.8" fill="#ee1111"/>
<circle cx="462.91" cy="170.08" r="2.8" fill="#ee1111"/>
<circle cx="464.12" cy="169.29" r="2.8" fill="#ee1111"/>
<circle cx="465.33" cy="168.49" r="2.8" fill="#ee1111"/>
<circle cx="466.54" cy="167.68" r="2.8" fill="#ee1111"/>
<circle cx="467.75" cy="166.88" r="2.8" fill="#ee1111"/>
<circle cx="468.96" cy="166.07" r="2.8" fill="#ee1111"/>
<circle cx="470.17" cy="165.26" r="2.8" fill="#ee1111"/>
<circle cx="471.38" cy="164.44" r="2.8" fill="#ee1111"/>
<circle cx="472.59" cy="163.62" r="2.8" fill="#ee1111"/>
<circle cx="473.80" cy="162.79" r="2.8" fill="#ee1111"/>
<circle cx="475.01" cy="161.97" r="2.8" fill="#ee1111"/>
<circle cx="476.22" cy="161.13" r="2.8" fill="#ee1111"/>
<circle cx="477.43" cy="160.30" r="2.8" fill="#ee1111"/>
<circle cx="478.64" cy="159.46" r="2.8" fill="#ee1111"/>
<circle cx="479.85" cy="158.62" r="2.8" fill="#ee1111"/>
<circle cx="481.06" cy="157.77" r="2.8" fill="#ee1111"/>
<circle cx="482.27" cy="156.92" r="2.8" fill="#ee1111"/>
<circle cx="483.48" cy="156.07" r="2.8" fill="#ee1111"/>
<circle cx="484.69" cy="155.21" r="2.8" fill="#ee1111"/>
<circle cx="485.90" cy="154.35" r="2.8" fill="#ee1111"/>
<circle cx="487.11" cy="153.49" r="2.8" fill="#ee1111"/>
<circle cx="488.32" cy="152.62" r="2.8" fill="#ee1111"/>
<circle cx="489.53" cy="151.75" r="2.8" fill="#ee1111"/>
<circle cx="490.74" cy="150.88" r="2.8" fill="#ee1111"/>
<circle cx="491.95" cy="150.00" r="2.8" fill="#ee1111"/>
<circle cx="493.16" cy="92.86" r="2.8" fill="#ee1111"/>
<circle cx="493.16" cy="149.12" r="2.8" fill="#ee1111"/>
<circle cx="494.37" cy="91.95" r="2.8" fill="#ee1111"/>
<circle cx="494.37" cy="148.23" r="2.8" fill="#ee1111"/>
<circle cx="495.58" cy="91.05" r="2.8" fill="#ee1111"/>
<circle cx="495.58" cy="147.34" r="2.8" fill="#ee1111"/>
<circle cx="496.79" cy="90.14" r="2.8" fill="#ee1111"/>
<circle cx="496.79" cy="146.45" r="2.8" fill="#ee1111"/>
<circle cx="498.00" cy="89.24" r="2.8" fill="#ee1111"/>
<circle cx="498.00" cy="145.56" r="2.8" fill="#ee1111"/>
<circle cx="499.21" cy="88.35" r="2.8" fill="#ee1111"/>
<circle cx="499.21" cy="144.66" r="2.8" fill="#ee1111"/>
<circle cx="500.42" cy="87.46" r="2.8" fill="#ee1111"/>
<circle cx="500.42" cy="143.75" r="2.8" fill="#ee1111"/>
<circle cx="501.63" cy="86.57" r="2.8" fill="#ee1111"/>
<circle cx="501.63" cy="142.85" r="2.8" fill="#ee1111"/>
<circle cx="502.84" cy="85.68" r="2.8" fill="#ee1111"/>
<circle cx="502.84" cy="141.94" r="2.8" fill="#ee1111"/>
<circle cx="504.05" cy="84.80" r="2.8" fill="#ee1111"/>
<circle cx="505.26" cy="83.92" r="2.8" fill="#ee1111"/>
<circle cx="506.47" cy="83.05" r="2.8" fill="#ee1111"/>
<circle cx="507.68" cy="82.18" r="2.8" fill="#ee1111"/>
<circle cx="508.89" cy="81.31" r="2.8" fill="#ee1111"/>
<circle cx="510.10" cy="80.45" r="2.8" fill="#ee1111"/>
<circle cx="511.31" cy="79.59" r="2.8" fill="#ee1111"/>
<circle cx="512.52" cy="78.73" r="2.8" fill="#ee1111"/>
<circle cx="513.73" cy="77.88" r="2.8" fill="#ee1111"/>
<circle cx="514.94" cy="77.03" r="2.8" fill="#ee1111"/>
<circle cx="516.15" cy="76.18" r="2.8" fill="#ee1111"/>
<circle cx="517.36" cy="75.34" r="2.8" fill="#ee1111"/>
<circle cx="518.57" cy="74.50" r="2.8" fill="#ee1111"/>
<circle cx="519.78" cy="73.67" r="2.8" fill="#ee1111"/>
<circle cx="520.99" cy="72.83" r="2.8" fill="#ee1111"/>
<circle cx="522.20" cy="72.01" r="2.8" fill="#ee1111"/>
<circle cx="523.41" cy="71.18" r="2.8" fill="#ee1111"/>
<circle cx="524.62" cy="70.36" r="2.8" fill="#ee1111"/>
<circle cx="525.83" cy="69.54" r="2.8" fill="#ee1111"/>
<circle cx="527.04" cy="68.73" r="2.8" fill="#ee1111"/>
<circle cx="528.25" cy="67.92" r="2.8" fill="#ee1111"/>
<circle cx="529.46" cy="67.12" r="2.8" fill="#ee1111"/>
<circle cx="530.67" cy="66.31" r="2.8" fill="#ee1111"/>
<circle cx="531.88" cy="65.51" r="2.8" fill="#ee1111"/>
<circle cx="533.09" cy="64.72" r="2.8" fill="#ee1111"/>
<circle cx="534.30" cy="63.93" r="2.8" fill="#ee1111"/>
<circle cx="535.51" cy="63.14" r="2.8" fill="#ee1111"/>
<circle cx="536.72" cy="62.35" r="2.8" fill="#ee1111"/>
<circle cx="537.93" cy="61.57" r="2.8" fill="#ee1111"/>
<circle cx="539.14" cy="60.79" r="2.8" fill="#ee1111"/>
<circle cx="540.35" cy="60.02" r="2.8" fill="#ee1111"/>
<circle cx="541.56" cy="59.25" r="2.8" fill="#ee1111"/>
<circle cx="542.77" cy="58.48" r="2.8" fill="#ee1111"/>
<circle cx="543.98" cy="57.72" r="2.8" fill="#ee1111"/>
<circle cx="545.19" cy="56.96" r="2.8" fill="#ee1111"/>
<circle cx="546.40" cy="56.21" r="2.8" fill="#ee1111"/>
<circle cx="425.40" cy="192.96" r="2.8" fill="#ee1111"/>
<circle cx="431.45" cy="189.50" r="2.8" fill="#ee1111"/>
<circle cx="437.50" cy="185.96" r="2.8" fill="#ee1111"/>
<circle cx="443.55" cy="182.32" r="2.8" fill="#ee1111"/>
<circle cx="552.45" cy="52.48" r="2.8" fill="#ee1111"/>
<circle cx="558.50" cy="48.84" r="2.8" fill="#ee1111"/>
<circle cx="564.55" cy="45.30" r="2.8" fill="#ee1111"/>
<circle cx="570.60" cy="41.84" r="2.8" fill="#ee1111"/>
<circle cx="492.43" cy="91.54" r="2.8" fill="#ee1111"/>
<circle cx="491.71" cy="104.76" r="2.8" fill="#ee1111"/>
<circle cx="490.74" cy="128.32" r="2.8" fill="#ee1111"/>
<circle cx="488.80" cy="147.57" r="2.8" fill="#ee1111"/>
<circle cx="503.01" cy="140.38" r="2.8" fill="#ee1111"/>
<circle cx="504.29" cy="126.02" r="2.8" fill="#ee1111"/>
<circle cx="505.50" cy="105.05" r="2.8" fill="#ee1111"/>
<circle cx="506.71" cy="87.23" r="2.8" fill="#ee1111"/>
<rect x="413.3" y="2.5" width="266.20" height="215.50" fill="none" stroke="#2a2a2a" stroke-width="1.1"/>
<line x1="413.30" y1="218.0" x2="413.30" y2="215.50" stroke="#2a2a2a" stroke-width="1"/>
<line x1="413.30" y1="2.5" x2="413.30" y2="5.00" stroke="#2a2a2a" stroke-width="1"/>
<line x1="425.40" y1="218.0" x2="425.40" y2="213.50" stroke="#2a2a2a" stroke-width="1"/>
<line x1="425.40" y1="2.5" x2="425.40" y2="7.00" stroke="#2a2a2a" stroke-width="1"/>
<line x1="437.50" y1="218.0" x2="437.50" y2="215.50" stroke="#2a2a2a" stroke-width="1"/>
<line x1="437.50" y1="2.5" x2="437.50" y2="5.00" stroke="#2a2a2a" stroke-width="1"/>
<line x1="449.60" y1="218.0" x2="449.60" y2="213.50" stroke="#2a2a2a" stroke-width="1"/>
<line x1="449.60" y1="2.5" x2="449.60" y2="7.00" stroke="#2a2a2a" stroke-width="1"/>
<line x1="461.70" y1="218.0" x2="461.70" y2="215.50" stroke="#2a2a2a" stroke-width="1"/>
<line x1="461.70" y1="2.5" x2="461.70" y2="5.00" stroke="#2a2a2a" stroke-width="1"/>
<line x1="473.80" y1="218.0" x2="473.80" y2="213.50" stroke="#2a2a2a" stroke-width="1"/>
<line x1="473.80" y1="2.5" x2="473.80" y2="7.00" stroke="#2a2a2a" stroke-width="1"/>
<line x1="485.90" y1="218.0" x2="485.90" y2="215.50" stroke="#2a2a2a" stroke-width="1"/>
<line x1="485.90" y1="2.5" x2="485.90" y2="5.00" stroke="#2a2a2a" stroke-width="1"/>
<line x1="498.00" y1="218.0" x2="498.00" y2="213.50" stroke="#2a2a2a" stroke-width="1"/>
<line x1="498.00" y1="2.5" x2="498.00" y2="7.00" stroke="#2a2a2a" stroke-width="1"/>
<line x1="510.10" y1="218.0" x2="510.10" y2="215.50" stroke="#2a2a2a" stroke-width="1"/>
<line x1="510.10" y1="2.5" x2="510.10" y2="5.00" stroke="#2a2a2a" stroke-width="1"/>
<line x1="522.20" y1="218.0" x2="522.20" y2="213.50" stroke="#2a2a2a" stroke-width="1"/>
<line x1="522.20" y1="2.5" x2="522.20" y2="7.00" stroke="#2a2a2a" stroke-width="1"/>
<line x1="534.30" y1="218.0" x2="534.30" y2="215.50" stroke="#2a2a2a" stroke-width="1"/>
<line x1="534.30" y1="2.5" x2="534.30" y2="5.00" stroke="#2a2a2a" stroke-width="1"/>
<line x1="546.40" y1="218.0" x2="546.40" y2="213.50" stroke="#2a2a2a" stroke-width="1"/>
<line x1="546.40" y1="2.5" x2="546.40" y2="7.00" stroke="#2a2a2a" stroke-width="1"/>
<line x1="558.50" y1="218.0" x2="558.50" y2="215.50" stroke="#2a2a2a" stroke-width="1"/>
<line x1="558.50" y1="2.5" x2="558.50" y2="5.00" stroke="#2a2a2a" stroke-width="1"/>
<line x1="570.60" y1="218.0" x2="570.60" y2="213.50" stroke="#2a2a2a" stroke-width="1"/>
<line x1="570.60" y1="2.5" x2="570.60" y2="7.00" stroke="#2a2a2a" stroke-width="1"/>
<line x1="582.70" y1="218.0" x2="582.70" y2="215.50" stroke="#2a2a2a" stroke-width="1"/>
<line x1="582.70" y1="2.5" x2="582.70" y2="5.00" stroke="#2a2a2a" stroke-width="1"/>
<line x1="594.80" y1="218.0" x2="594.80" y2="213.50" stroke="#2a2a2a" stroke-width="1"/>
<line x1="594.80" y1="2.5" x2="594.80" y2="7.00" stroke="#2a2a2a" stroke-width="1"/>
<line x1="606.90" y1="218.0" x2="606.90" y2="215.50" stroke="#2a2a2a" stroke-width="1"/>
<line x1="606.90" y1="2.5" x2="606.90" y2="5.00" stroke="#2a2a2a" stroke-width="1"/>
<line x1="619.00" y1="218.0" x2="619.00" y2="213.50" stroke="#2a2a2a" stroke-width="1"/>
<line x1="619.00" y1="2.5" x2="619.00" y2="7.00" stroke="#2a2a2a" stroke-width="1"/>
<line x1="631.10" y1="218.0" x2="631.10" y2="215.50" stroke="#2a2a2a" stroke-width="1"/>
<line x1="631.10" y1="2.5" x2="631.10" y2="5.00" stroke="#2a2a2a" stroke-width="1"/>
<line x1="643.20" y1="218.0" x2="643.20" y2="213.50" stroke="#2a2a2a" stroke-width="1"/>
<line x1="643.20" y1="2.5" x2="643.20" y2="7.00" stroke="#2a2a2a" stroke-width="1"/>
<line x1="655.30" y1="218.0" x2="655.30" y2="215.50" stroke="#2a2a2a" stroke-width="1"/>
<line x1="655.30" y1="2.5" x2="655.30" y2="5.00" stroke="#2a2a2a" stroke-width="1"/>
<line x1="667.40" y1="218.0" x2="667.40" y2="213.50" stroke="#2a2a2a" stroke-width="1"/>
<line x1="667.40" y1="2.5" x2="667.40" y2="7.00" stroke="#2a2a2a" stroke-width="1"/>
<line x1="679.50" y1="218.0" x2="679.50" y2="215.50" stroke="#2a2a2a" stroke-width="1"/>
<line x1="679.50" y1="2.5" x2="679.50" y2="5.00" stroke="#2a2a2a" stroke-width="1"/>
<line x1="413.3" y1="217.96" x2="415.80" y2="217.96" stroke="#2a2a2a" stroke-width="1"/>
<line x1="679.5" y1="217.96" x2="677.00" y2="217.96" stroke="#2a2a2a" stroke-width="1"/>
<line x1="413.3" y1="203.59" x2="417.80" y2="203.59" stroke="#2a2a2a" stroke-width="1"/>
<line x1="679.5" y1="203.59" x2="675.00" y2="203.59" stroke="#2a2a2a" stroke-width="1"/>
<line x1="413.3" y1="189.23" x2="415.80" y2="189.23" stroke="#2a2a2a" stroke-width="1"/>
<line x1="679.5" y1="189.23" x2="677.00" y2="189.23" stroke="#2a2a2a" stroke-width="1"/>
<line x1="413.3" y1="174.86" x2="417.80" y2="174.86" stroke="#2a2a2a" stroke-width="1"/>
<line x1="679.5" y1="174.86" x2="675.00" y2="174.86" stroke="#2a2a2a" stroke-width="1"/>
<line x1="413.3" y1="160.50" x2="415.80" y2="160.50" stroke="#2a2a2a" stroke-width="1"/>
<line x1="679.5" y1="160.50" x2="677.00" y2="160.50" stroke="#2a2a2a" stroke-width="1"/>
<line x1="413.3" y1="146.13" x2="417.80" y2="146.13" stroke="#2a2a2a" stroke-width="1"/>
<line x1="679.5" y1="146.13" x2="675.00" y2="146.13" stroke="#2a2a2a" stroke-width="1"/>
<line x1="413.3" y1="131.77" x2="415.80" y2="131.77" stroke="#2a2a2a" stroke-width="1"/>
<line x1="679.5" y1="131.77" x2="677.00" y2="131.77" stroke="#2a2a2a" stroke-width="1"/>
<line x1="413.3" y1="117.40" x2="417.80" y2="117.40" stroke="#2a2a2a" stroke-width="1"/>
<line x1="679.5" y1="117.40" x2="675.00" y2="117.40" stroke="#2a2a2a" stroke-width="1"/>
<line x1="413.3" y1="103.04" x2="415.80" y2="103.04" stroke="#2a2a2a" stroke-width="1"/>
<line x1="679.5" y1="103.04" x2="677.00" y2="103.04" stroke="#2a2a2a" stroke-width="1"/>
<line x1="413.3" y1="88.67" x2="417.80" y2="88.67" stroke="#2a2a2a" stroke-width="1"/>
<line x1="679.5" y1="88.67" x2="675.00" y2="88.67" stroke="#2a2a2a" stroke-width="1"/>
<line x1="413.3" y1="74.31" x2="415.80" y2="74.31" stroke="#2a2a2a" stroke-width="1"/>
<line x1="679.5" y1="74.31" x2="677.00" y2="74.31" stroke="#2a2a2a" stroke-width="1"/>
<line x1="413.3" y1="59.94" x2="417.80" y2="59.94" stroke="#2a2a2a" stroke-width="1"/>
<line x1="679.5" y1="59.94" x2="675.00" y2="59.94" stroke="#2a2a2a" stroke-width="1"/>
<line x1="413.3" y1="45.58" x2="415.80" y2="45.58" stroke="#2a2a2a" stroke-width="1"/>
<line x1="679.5" y1="45.58" x2="677.00" y2="45.58" stroke="#2a2a2a" stroke-width="1"/>
<line x1="413.3" y1="31.21" x2="417.80" y2="31.21" stroke="#2a2a2a" stroke-width="1"/>
<line x1="679.5" y1="31.21" x2="675.00" y2="31.21" stroke="#2a2a2a" stroke-width="1"/>
<line x1="413.3" y1="16.84" x2="415.80" y2="16.84" stroke="#2a2a2a" stroke-width="1"/>
<line x1="679.5" y1="16.84" x2="677.00" y2="16.84" stroke="#2a2a2a" stroke-width="1"/>
<line x1="413.3" y1="2.48" x2="417.80" y2="2.48" stroke="#2a2a2a" stroke-width="1"/>
<line x1="679.5" y1="2.48" x2="675.00" y2="2.48" stroke="#2a2a2a" stroke-width="1"/>
<text x="423.20" y="232.10" font-size="12.5" font-weight="normal" text-anchor="middle" fill="#1e1e1e" stroke="#1e1e1e" stroke-width="0.22" textLength="19.87" lengthAdjust="spacingAndGlyphs">-30</text>
<text x="449.00" y="232.10" font-size="12.5" font-weight="normal" text-anchor="middle" fill="#1e1e1e" stroke="#1e1e1e" stroke-width="0.22" textLength="19.87" lengthAdjust="spacingAndGlyphs">-20</text>
<text x="474.60" y="232.10" font-size="12.5" font-weight="normal" text-anchor="middle" fill="#1e1e1e" stroke="#1e1e1e" stroke-width="0.22" textLength="19.87" lengthAdjust="spacingAndGlyphs">-10</text>
<text x="498.40" y="232.10" font-size="12.5" font-weight="normal" text-anchor="middle" fill="#1e1e1e" stroke="#1e1e1e" stroke-width="0.22" textLength="7.65" lengthAdjust="spacingAndGlyphs">0</text>
<text x="522.60" y="232.10" font-size="12.5" font-weight="normal" text-anchor="middle" fill="#1e1e1e" stroke="#1e1e1e" stroke-width="0.22" textLength="15.29" lengthAdjust="spacingAndGlyphs">10</text>
<text x="546.80" y="232.10" font-size="12.5" font-weight="normal" text-anchor="middle" fill="#1e1e1e" stroke="#1e1e1e" stroke-width="0.22" textLength="15.29" lengthAdjust="spacingAndGlyphs">20</text>
<text x="571.00" y="232.10" font-size="12.5" font-weight="normal" text-anchor="middle" fill="#1e1e1e" stroke="#1e1e1e" stroke-width="0.22" textLength="15.29" lengthAdjust="spacingAndGlyphs">30</text>
<text x="595.20" y="232.10" font-size="12.5" font-weight="normal" text-anchor="middle" fill="#1e1e1e" stroke="#1e1e1e" stroke-width="0.22" textLength="15.29" lengthAdjust="spacingAndGlyphs">40</text>
<text x="619.40" y="232.10" font-size="12.5" font-weight="normal" text-anchor="middle" fill="#1e1e1e" stroke="#1e1e1e" stroke-width="0.22" textLength="15.29" lengthAdjust="spacingAndGlyphs">50</text>
<text x="643.60" y="232.10" font-size="12.5" font-weight="normal" text-anchor="middle" fill="#1e1e1e" stroke="#1e1e1e" stroke-width="0.22" textLength="15.29" lengthAdjust="spacingAndGlyphs">60</text>
<text x="667.80" y="232.10" font-size="12.5" font-weight="normal" text-anchor="middle" fill="#1e1e1e" stroke="#1e1e1e" stroke-width="0.22" textLength="15.29" lengthAdjust="spacingAndGlyphs">70</text>
<text x="408.40" y="207.19" font-size="12.5" font-weight="normal" text-anchor="end" fill="#1e1e1e" stroke="#1e1e1e" stroke-width="0.22" textLength="29.20" lengthAdjust="spacingAndGlyphs">-0.03</text>
<text x="408.40" y="178.46" font-size="12.5" font-weight="normal" text-anchor="end" fill="#1e1e1e" stroke="#1e1e1e" stroke-width="0.22" textLength="29.20" lengthAdjust="spacingAndGlyphs">-0.02</text>
<text x="408.40" y="149.73" font-size="12.5" font-weight="normal" text-anchor="end" fill="#1e1e1e" stroke="#1e1e1e" stroke-width="0.22" textLength="29.20" lengthAdjust="spacingAndGlyphs">-0.01</text>
<text x="408.40" y="121.00" font-size="12.5" font-weight="normal" text-anchor="end" fill="#1e1e1e" stroke="#1e1e1e" stroke-width="0.22" textLength="24.93" lengthAdjust="spacingAndGlyphs">0.00</text>
<text x="408.40" y="92.27" font-size="12.5" font-weight="normal" text-anchor="end" fill="#1e1e1e" stroke="#1e1e1e" stroke-width="0.22" textLength="24.93" lengthAdjust="spacingAndGlyphs">0.01</text>
<text x="408.40" y="63.54" font-size="12.5" font-weight="normal" text-anchor="end" fill="#1e1e1e" stroke="#1e1e1e" stroke-width="0.22" textLength="24.93" lengthAdjust="spacingAndGlyphs">0.02</text>
<text x="408.40" y="34.81" font-size="12.5" font-weight="normal" text-anchor="end" fill="#1e1e1e" stroke="#1e1e1e" stroke-width="0.22" textLength="24.93" lengthAdjust="spacingAndGlyphs">0.03</text>
<text x="510.19" y="248.60" font-size="14.6" font-weight="bold" fill="#111" textLength="57.72" lengthAdjust="spacingAndGlyphs">H (kOe)</text>
<text transform="translate(376.3,162.1) rotate(-90)" font-size="15.5" font-weight="bold" fill="#111"><tspan x="-0.9" y="0">M</tspan><tspan x="16.8" y="0" font-weight="normal" font-size="18">(</tspan><tspan x="23.6" y="-0.5" font-weight="normal" font-size="12.5">&#956;</tspan><tspan x="31.6" y="3.5" font-weight="normal" font-size="9.5" font-family="'Liberation Serif', serif">B</tspan><tspan x="38.6" y="-1.5" font-size="9">&#183;</tspan><tspan x="45.6" y="0" font-size="14.7">f.u.</tspan><tspan x="69.6" y="-7.5" font-size="10">-1</tspan><tspan x="77.3" y="0" font-weight="normal" font-size="18">)</tspan></text>
<text x="559.85" y="133.20" font-size="12.3" font-weight="bold" fill="#111" textLength="44.99" lengthAdjust="spacingAndGlyphs">LSFO 2</text>
<text x="532.56" y="161.20" font-size="13" font-weight="bold" fill="#111" textLength="24.71" lengthAdjust="spacingAndGlyphs">H//c</text>
<text x="618.9" y="161.20" font-size="13" font-weight="bold" fill="#111" textLength="24.71" lengthAdjust="spacingAndGlyphs">H<tspan font-weight="normal" fill="#444">&#8869;</tspan>c</text>
<line x1="517" y1="174.6" x2="528" y2="174.6" stroke="#000" stroke-width="1.4"/><line x1="540.5" y1="174.6" x2="551" y2="174.6" stroke="#000" stroke-width="1.4"/>
<path d="M534.2,171.8 L536.8,176.5 L531.6,176.5Z" fill="#000"/>
<text x="554.33" y="179.80" font-size="13" font-weight="bold" fill="#111" textLength="21.73" lengthAdjust="spacingAndGlyphs">5 K</text>
<line x1="517" y1="194.4" x2="528" y2="194.4" stroke="#ee1111" stroke-width="1.4"/><line x1="540.5" y1="194.4" x2="551" y2="194.4" stroke="#ee1111" stroke-width="1.4"/>
<circle cx="534.2" cy="194.4" r="2.3" fill="#ee1111"/>
<text x="554.33" y="198.40" font-size="13" font-weight="bold" fill="#111" textLength="37.02" lengthAdjust="spacingAndGlyphs">130 K</text>
<line x1="619.2" y1="175" x2="626.5" y2="175" stroke="#3030cc" stroke-width="1"/><line x1="633.8" y1="175" x2="641" y2="175" stroke="#3030cc" stroke-width="1"/>
<rect x="628.2" y="172.9" width="4.2" height="4.2" fill="#fff" stroke="#5050d8" stroke-width="0.9"/>
<text x="644.12" y="179.80" font-size="13" font-weight="bold" fill="#111" textLength="17.95" lengthAdjust="spacingAndGlyphs">5K</text>
<text x="361.76" y="16.90" font-size="21.5" font-weight="bold" fill="#000" textLength="13.62" lengthAdjust="spacingAndGlyphs">b</text>
<rect x="9.2" y="298.7" width="130.6" height="129.5" fill="none" stroke="#000" stroke-width="2.0" stroke-dasharray="3.6 5.9"/>
<rect x="185.1" y="298.7" width="130.6" height="129.5" fill="none" stroke="#000" stroke-width="2.0" stroke-dasharray="3.6 5.9"/>
<rect x="9.4" y="487.3" width="130.2" height="129.3" fill="none" stroke="#000" stroke-width="2.0" stroke-dasharray="3.6 5.9"/>
<rect x="185.1" y="488.3" width="130.2" height="128.4" fill="none" stroke="#000" stroke-width="2.0" stroke-dasharray="3.6 5.9"/>
<rect x="405.4" y="360.5" width="130.2" height="129.1" fill="none" stroke="#000" stroke-width="1.5" stroke-dasharray="3.6 5.9"/>
<rect x="68.2" y="603" width="64.6" height="4.8" fill="#000"/>
<rect x="246.2" y="604.1" width="64.8" height="4.6" fill="#000"/>
<rect x="592.2" y="599.2" width="64.8" height="4.6" fill="#000"/>
<rect x="345.3" y="543.6" width="75.7" height="80" fill="#fff"/>
<g filter="url(#maze)"><rect x="351" y="549.8" width="64" height="64.2" fill="#000"/></g>
<rect x="350.7" y="549.5" width="64.8" height="64.8" fill="none" stroke="#000" stroke-width="1.7"/>
<rect x="153.7" y="326" width="6.8" height="81" fill="url(#cbm)" stroke="#777" stroke-width="0.6"/>
<rect x="153.3" y="516.6" width="7.2" height="81" fill="url(#cba)" stroke="#777" stroke-width="0.6"/>
<text x="16.79" y="292.50" font-size="21.5" font-weight="bold" fill="#000" textLength="13.29" lengthAdjust="spacingAndGlyphs">c</text>
<text x="194.6" y="292.5" font-size="21.5" font-weight="bold" text-anchor="start" fill="#000">e</text>
<text x="16.2" y="480.7" font-size="21.5" font-weight="bold" text-anchor="start" fill="#000">d</text>
<text x="195.6" y="480.7" font-size="21.5" font-weight="bold" text-anchor="start" fill="#000">f</text>
<text x="370.9" y="276" font-size="21.5" font-weight="bold" text-anchor="start" fill="#000">g</text>
<text x="153.6" y="320.5" font-size="12.5" font-weight="bold" text-anchor="start" fill="#111">2</text>
<text x="161.2" y="312" font-size="7" font-weight="normal" text-anchor="start" fill="#111">o</text>
<text x="151.4" y="424.8" font-size="12.5" font-weight="bold" text-anchor="start" fill="#111">-2</text>
<text x="163.2" y="416" font-size="7" font-weight="normal" text-anchor="start" fill="#111">o</text>
<text x="139.22" y="510.60" font-size="12.3" font-weight="bold" fill="#111" textLength="45.91" lengthAdjust="spacingAndGlyphs">500 nm</text>
<text x="157.2" y="613.7" font-size="12.3" font-weight="bold" text-anchor="middle" fill="#111">0</text>
<text x="26.39" y="442.50" font-size="11.6" font-weight="bold" fill="#111" textLength="91.34" lengthAdjust="spacingAndGlyphs">LSFO 1, area C</text>
<text x="19.28" y="457.70" font-size="11.6" font-weight="bold" fill="#111" textLength="105.63" lengthAdjust="spacingAndGlyphs">1st thermal cycle</text>
<text x="204.60" y="442.50" font-size="11.6" font-weight="bold" fill="#111" textLength="90.83" lengthAdjust="spacingAndGlyphs">LSFO 1, area C</text>
<text x="195.90" y="457.70" font-size="11.6" font-weight="bold" fill="#111" textLength="109.65" lengthAdjust="spacingAndGlyphs">2nd thermal cycle</text>
</svg>
</body></html>
